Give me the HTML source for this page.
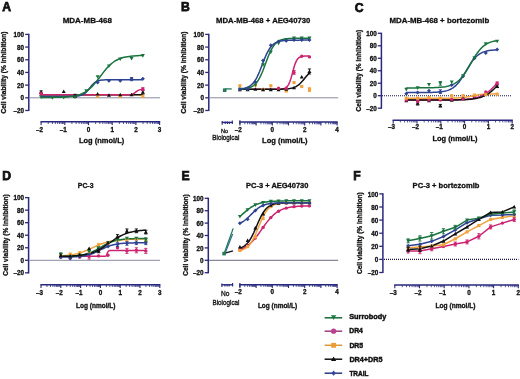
<!DOCTYPE html>
<html><head><meta charset="utf-8"><style>
html,body{margin:0;padding:0;background:#fff;}
body{width:520px;height:379px;overflow:hidden;}
svg{display:block;filter:blur(0.45px);}
text{font-family:"Liberation Sans",sans-serif;stroke:#111;stroke-width:0.3px;}
</style></head><body>
<svg width="520" height="379" viewBox="0 0 520 379">
<rect width="520" height="379" fill="#fff"/>
<text x="2.30" y="11.40" font-size="12.2" font-weight="bold" text-anchor="start" fill="#111" style="stroke-width:0.75px">A</text>
<text x="181.10" y="11.30" font-size="12.2" font-weight="bold" text-anchor="start" fill="#111" style="stroke-width:0.75px">B</text>
<text x="354.70" y="11.60" font-size="12.2" font-weight="bold" text-anchor="start" fill="#111" style="stroke-width:0.75px">C</text>
<text x="2.30" y="179.60" font-size="12.2" font-weight="bold" text-anchor="start" fill="#111" style="stroke-width:0.75px">D</text>
<text x="181.50" y="180.00" font-size="12.2" font-weight="bold" text-anchor="start" fill="#111" style="stroke-width:0.75px">E</text>
<text x="353.30" y="180.00" font-size="12.2" font-weight="bold" text-anchor="start" fill="#111" style="stroke-width:0.75px">F</text>
<text x="87.30" y="22.70" font-size="7.6" font-weight="bold" text-anchor="middle" fill="#111"  textLength="49.2" lengthAdjust="spacingAndGlyphs">MDA-MB-468</text>
<text x="263.20" y="22.70" font-size="7.6" font-weight="bold" text-anchor="middle" fill="#111"  textLength="94.2" lengthAdjust="spacingAndGlyphs">MDA-MB-468 + AEG40730</text>
<text x="439.35" y="22.80" font-size="7.6" font-weight="bold" text-anchor="middle" fill="#111"  textLength="99.7" lengthAdjust="spacingAndGlyphs">MDA-MB-468 + bortezomib</text>
<text x="85.65" y="188.20" font-size="7.22" font-weight="bold" text-anchor="middle" fill="#111"  textLength="15.7" lengthAdjust="spacingAndGlyphs">PC-3</text>
<text x="277.25" y="188.30" font-size="7.22" font-weight="bold" text-anchor="middle" fill="#111"  textLength="62.3" lengthAdjust="spacingAndGlyphs">PC-3 + AEG40730</text>
<text x="446.00" y="188.30" font-size="7.22" font-weight="bold" text-anchor="middle" fill="#111"  textLength="66.8" lengthAdjust="spacingAndGlyphs">PC-3 + bortezomib</text>
<line x1="28.8" y1="33.80" x2="28.8" y2="111.08" stroke="#28287e" stroke-width="1.5"/>
<line x1="25.2" y1="110.48" x2="28.8" y2="110.48" stroke="#28287e" stroke-width="1.3"/>
<text x="24.10" y="113.10" font-size="6.3" font-weight="bold" text-anchor="end" fill="#111" >&#8211;20</text>
<line x1="25.2" y1="97.80" x2="28.8" y2="97.80" stroke="#28287e" stroke-width="1.3"/>
<text x="24.10" y="100.42" font-size="6.3" font-weight="bold" text-anchor="end" fill="#111" >0</text>
<line x1="25.2" y1="85.12" x2="28.8" y2="85.12" stroke="#28287e" stroke-width="1.3"/>
<text x="24.10" y="87.74" font-size="6.3" font-weight="bold" text-anchor="end" fill="#111" >20</text>
<line x1="25.2" y1="72.44" x2="28.8" y2="72.44" stroke="#28287e" stroke-width="1.3"/>
<text x="24.10" y="75.06" font-size="6.3" font-weight="bold" text-anchor="end" fill="#111" >40</text>
<line x1="25.2" y1="59.76" x2="28.8" y2="59.76" stroke="#28287e" stroke-width="1.3"/>
<text x="24.10" y="62.38" font-size="6.3" font-weight="bold" text-anchor="end" fill="#111" >60</text>
<line x1="25.2" y1="47.08" x2="28.8" y2="47.08" stroke="#28287e" stroke-width="1.3"/>
<text x="24.10" y="49.70" font-size="6.3" font-weight="bold" text-anchor="end" fill="#111" >80</text>
<line x1="25.2" y1="34.40" x2="28.8" y2="34.40" stroke="#28287e" stroke-width="1.3"/>
<text x="24.10" y="37.02" font-size="6.3" font-weight="bold" text-anchor="end" fill="#111" >100</text>
<line x1="29.5" y1="97.80" x2="160" y2="97.80" stroke="#8a8aa2" stroke-width="1.0"/>
<line x1="40.50" y1="121.8" x2="160.20" y2="121.8" stroke="#28287e" stroke-width="1.5"/>
<line x1="41.10" y1="121.8" x2="41.10" y2="125.1" stroke="#28287e" stroke-width="1.1"/>
<line x1="48.23" y1="121.8" x2="48.23" y2="124.0" stroke="#28287e" stroke-width="0.8"/>
<line x1="52.41" y1="121.8" x2="52.41" y2="124.0" stroke="#28287e" stroke-width="0.8"/>
<line x1="55.37" y1="121.8" x2="55.37" y2="124.0" stroke="#28287e" stroke-width="0.8"/>
<line x1="57.67" y1="121.8" x2="57.67" y2="124.0" stroke="#28287e" stroke-width="0.8"/>
<line x1="59.54" y1="121.8" x2="59.54" y2="124.0" stroke="#28287e" stroke-width="0.8"/>
<line x1="61.13" y1="121.8" x2="61.13" y2="124.0" stroke="#28287e" stroke-width="0.8"/>
<line x1="62.50" y1="121.8" x2="62.50" y2="124.0" stroke="#28287e" stroke-width="0.8"/>
<line x1="63.72" y1="121.8" x2="63.72" y2="124.0" stroke="#28287e" stroke-width="0.8"/>
<line x1="64.80" y1="121.8" x2="64.80" y2="125.1" stroke="#28287e" stroke-width="1.1"/>
<line x1="71.93" y1="121.8" x2="71.93" y2="124.0" stroke="#28287e" stroke-width="0.8"/>
<line x1="76.11" y1="121.8" x2="76.11" y2="124.0" stroke="#28287e" stroke-width="0.8"/>
<line x1="79.07" y1="121.8" x2="79.07" y2="124.0" stroke="#28287e" stroke-width="0.8"/>
<line x1="81.37" y1="121.8" x2="81.37" y2="124.0" stroke="#28287e" stroke-width="0.8"/>
<line x1="83.24" y1="121.8" x2="83.24" y2="124.0" stroke="#28287e" stroke-width="0.8"/>
<line x1="84.83" y1="121.8" x2="84.83" y2="124.0" stroke="#28287e" stroke-width="0.8"/>
<line x1="86.20" y1="121.8" x2="86.20" y2="124.0" stroke="#28287e" stroke-width="0.8"/>
<line x1="87.42" y1="121.8" x2="87.42" y2="124.0" stroke="#28287e" stroke-width="0.8"/>
<line x1="88.50" y1="121.8" x2="88.50" y2="125.1" stroke="#28287e" stroke-width="1.1"/>
<line x1="95.63" y1="121.8" x2="95.63" y2="124.0" stroke="#28287e" stroke-width="0.8"/>
<line x1="99.81" y1="121.8" x2="99.81" y2="124.0" stroke="#28287e" stroke-width="0.8"/>
<line x1="102.77" y1="121.8" x2="102.77" y2="124.0" stroke="#28287e" stroke-width="0.8"/>
<line x1="105.07" y1="121.8" x2="105.07" y2="124.0" stroke="#28287e" stroke-width="0.8"/>
<line x1="106.94" y1="121.8" x2="106.94" y2="124.0" stroke="#28287e" stroke-width="0.8"/>
<line x1="108.53" y1="121.8" x2="108.53" y2="124.0" stroke="#28287e" stroke-width="0.8"/>
<line x1="109.90" y1="121.8" x2="109.90" y2="124.0" stroke="#28287e" stroke-width="0.8"/>
<line x1="111.12" y1="121.8" x2="111.12" y2="124.0" stroke="#28287e" stroke-width="0.8"/>
<line x1="112.20" y1="121.8" x2="112.20" y2="125.1" stroke="#28287e" stroke-width="1.1"/>
<line x1="119.33" y1="121.8" x2="119.33" y2="124.0" stroke="#28287e" stroke-width="0.8"/>
<line x1="123.51" y1="121.8" x2="123.51" y2="124.0" stroke="#28287e" stroke-width="0.8"/>
<line x1="126.47" y1="121.8" x2="126.47" y2="124.0" stroke="#28287e" stroke-width="0.8"/>
<line x1="128.77" y1="121.8" x2="128.77" y2="124.0" stroke="#28287e" stroke-width="0.8"/>
<line x1="130.64" y1="121.8" x2="130.64" y2="124.0" stroke="#28287e" stroke-width="0.8"/>
<line x1="132.23" y1="121.8" x2="132.23" y2="124.0" stroke="#28287e" stroke-width="0.8"/>
<line x1="133.60" y1="121.8" x2="133.60" y2="124.0" stroke="#28287e" stroke-width="0.8"/>
<line x1="134.82" y1="121.8" x2="134.82" y2="124.0" stroke="#28287e" stroke-width="0.8"/>
<line x1="135.90" y1="121.8" x2="135.90" y2="125.1" stroke="#28287e" stroke-width="1.1"/>
<line x1="143.03" y1="121.8" x2="143.03" y2="124.0" stroke="#28287e" stroke-width="0.8"/>
<line x1="147.21" y1="121.8" x2="147.21" y2="124.0" stroke="#28287e" stroke-width="0.8"/>
<line x1="150.17" y1="121.8" x2="150.17" y2="124.0" stroke="#28287e" stroke-width="0.8"/>
<line x1="152.47" y1="121.8" x2="152.47" y2="124.0" stroke="#28287e" stroke-width="0.8"/>
<line x1="154.34" y1="121.8" x2="154.34" y2="124.0" stroke="#28287e" stroke-width="0.8"/>
<line x1="155.93" y1="121.8" x2="155.93" y2="124.0" stroke="#28287e" stroke-width="0.8"/>
<line x1="157.30" y1="121.8" x2="157.30" y2="124.0" stroke="#28287e" stroke-width="0.8"/>
<line x1="158.52" y1="121.8" x2="158.52" y2="124.0" stroke="#28287e" stroke-width="0.8"/>
<line x1="159.60" y1="121.8" x2="159.60" y2="125.1" stroke="#28287e" stroke-width="1.1"/>
<text x="39.50" y="132.10" font-size="6.3" font-weight="bold" text-anchor="middle" fill="#111" >&#8211;2</text>
<text x="63.20" y="132.10" font-size="6.3" font-weight="bold" text-anchor="middle" fill="#111" >&#8211;1</text>
<text x="88.50" y="132.10" font-size="6.3" font-weight="bold" text-anchor="middle" fill="#111" >0</text>
<text x="112.20" y="132.10" font-size="6.3" font-weight="bold" text-anchor="middle" fill="#111" >1</text>
<text x="135.90" y="132.10" font-size="6.3" font-weight="bold" text-anchor="middle" fill="#111" >2</text>
<text x="159.60" y="132.10" font-size="6.3" font-weight="bold" text-anchor="middle" fill="#111" >3</text>
<text transform="translate(6.00,72.55) rotate(-90)" x="0" y="0" font-size="6.6" font-weight="bold" text-anchor="middle" fill="#111" textLength="82.10" lengthAdjust="spacingAndGlyphs">Cell viability (% inhibition)</text>
<text x="101.60" y="143.10" font-size="7.4" font-weight="bold" text-anchor="middle" fill="#111"  textLength="45.2" lengthAdjust="spacingAndGlyphs">Log (nmol/L)</text>
<polyline points="41.10,94.76 42.79,94.76 44.49,94.76 46.18,94.76 47.88,94.76 49.57,94.76 51.27,94.76 52.96,94.76 54.66,94.76 56.35,94.76 58.05,94.76 59.74,94.76 61.43,94.76 63.13,94.76 64.82,94.76 66.52,94.76 68.21,94.76 69.91,94.76 71.60,94.76 73.30,94.76 74.99,94.76 76.69,94.76 78.38,94.76 80.07,94.76 81.77,94.76 83.46,94.76 85.16,94.76 86.85,94.76 88.55,94.76 90.24,94.76 91.94,94.76 93.63,94.76 95.33,94.76 97.02,94.76 98.71,94.76 100.41,94.76 102.10,94.76 103.80,94.76 105.49,94.76 107.19,94.76 108.88,94.76 110.58,94.76 112.27,94.76 113.97,94.76 115.66,94.76 117.35,94.76 119.05,94.76 120.74,94.76 122.44,94.76 124.13,94.76 125.83,94.76 127.52,94.76 129.22,94.76 130.91,94.76 132.61,94.76 134.30,94.76 135.99,94.76 137.69,94.76 139.38,94.76 141.08,94.76 142.77,94.76" fill="none" stroke="#f2a23c" stroke-width="1.5" stroke-linejoin="round"/>
<polyline points="41.10,94.76 42.79,94.76 44.49,94.76 46.18,94.76 47.88,94.76 49.57,94.76 51.27,94.76 52.96,94.76 54.66,94.76 56.35,94.76 58.05,94.76 59.74,94.76 61.43,94.76 63.13,94.76 64.82,94.76 66.52,94.76 68.21,94.76 69.91,94.76 71.60,94.76 73.30,94.76 74.99,94.76 76.69,94.76 78.38,94.76 80.07,94.76 81.77,94.76 83.46,94.76 85.16,94.76 86.85,94.76 88.55,94.76 90.24,94.76 91.94,94.76 93.63,94.76 95.33,94.76 97.02,94.76 98.71,94.76 100.41,94.76 102.10,94.76 103.80,94.76 105.49,94.76 107.19,94.76 108.88,94.76 110.58,94.76 112.27,94.76 113.97,94.76 115.66,94.76 117.35,94.76 119.05,94.76 120.74,94.76 122.44,94.76 124.13,94.76 125.83,94.76 127.52,94.76 129.22,94.76 130.91,94.76 132.61,94.76 134.30,94.76 135.99,94.76 137.69,94.76 139.38,94.76 141.08,94.76 142.77,94.76" fill="none" stroke="#111111" stroke-width="1.5" stroke-linejoin="round"/>
<polyline points="41.10,94.76 42.79,94.76 44.49,94.76 46.18,94.76 47.88,94.76 49.57,94.76 51.27,94.76 52.96,94.76 54.66,94.76 56.35,94.76 58.05,94.76 59.74,94.76 61.43,94.76 63.13,94.76 64.82,94.76 66.52,94.76 68.21,94.76 69.91,94.76 71.60,94.76 73.30,94.76 74.99,94.76 76.69,94.76 78.38,94.76 80.07,94.76 81.77,94.76 83.46,94.76 85.16,94.76 86.85,94.76 88.55,94.76 90.24,94.76 91.94,94.76 93.63,94.76 95.33,94.76 97.02,94.76 98.71,94.76 100.41,94.76 102.10,94.76 103.80,94.76 105.49,94.76 107.19,94.76 108.88,94.76 110.58,94.76 112.27,94.76 113.97,94.76 115.66,94.76 117.35,94.76 119.05,94.76 120.74,94.76 122.44,94.75 124.13,94.75 125.83,94.74 127.52,94.72 129.22,94.65 130.91,94.47 132.61,94.05 134.30,93.20 135.99,91.92 137.69,90.68 139.38,89.88 141.08,89.50 142.77,89.34" fill="none" stroke="#cc2470" stroke-width="1.5" stroke-linejoin="round"/>
<polyline points="41.10,96.41 42.79,96.41 44.49,96.41 46.18,96.41 47.88,96.41 49.57,96.41 51.27,96.41 52.96,96.41 54.66,96.40 56.35,96.40 58.05,96.40 59.74,96.40 61.43,96.40 63.13,96.40 64.82,96.40 66.52,96.39 68.21,96.38 69.91,96.37 71.60,96.35 73.30,96.30 74.99,96.23 76.69,96.12 78.38,95.92 80.07,95.61 81.77,95.09 83.46,94.30 85.16,93.13 86.85,91.52 88.55,89.53 90.24,87.35 91.94,85.26 93.63,83.51 95.33,82.19 97.02,81.28 98.71,80.68 100.41,80.30 102.10,80.07 103.80,79.94 105.49,79.85 107.19,79.80 108.88,79.77 110.58,79.76 112.27,79.75 113.97,79.74 115.66,79.74 117.35,79.73 119.05,79.73 120.74,79.73 122.44,79.73 124.13,79.73 125.83,79.73 127.52,79.73 129.22,79.73 130.91,79.73 132.61,79.73 134.30,79.73 135.99,79.73 137.69,79.73 139.38,79.73 141.08,79.73 142.77,79.73" fill="none" stroke="#2e4292" stroke-width="1.5" stroke-linejoin="round"/>
<polyline points="41.10,97.46 42.79,97.45 44.49,97.45 46.18,97.44 47.88,97.43 49.57,97.41 51.27,97.40 52.96,97.38 54.66,97.35 56.35,97.32 58.05,97.28 59.74,97.23 61.43,97.18 63.13,97.10 64.82,97.01 66.52,96.90 68.21,96.77 69.91,96.60 71.60,96.39 73.30,96.14 74.99,95.84 76.69,95.46 78.38,95.01 80.07,94.46 81.77,93.80 83.46,93.02 85.16,92.09 86.85,91.00 88.55,89.73 90.24,88.29 91.94,86.66 93.63,84.85 95.33,82.88 97.02,80.77 98.71,78.57 100.41,76.32 102.10,74.08 103.80,71.88 105.49,69.79 107.19,67.83 108.88,66.03 110.58,64.41 112.27,62.98 113.97,61.73 115.66,60.65 117.35,59.73 119.05,58.95 120.74,58.30 122.44,57.76 124.13,57.31 125.83,56.95 127.52,56.64 129.22,56.39 130.91,56.19 132.61,56.03 134.30,55.89 135.99,55.78 137.69,55.70 139.38,55.62 141.08,55.57 142.77,55.52" fill="none" stroke="#18733f" stroke-width="1.5" stroke-linejoin="round"/>
<rect x="96.06" y="94.64" width="3.15" height="3.15" fill="#f2a23c"/>
<rect x="118.68" y="94.64" width="3.15" height="3.15" fill="#f2a23c"/>
<rect x="141.29" y="94.64" width="3.15" height="3.15" fill="#f2a23c"/>
<path d="M41.10,90.83V93.36M39.50,90.83H42.70M39.50,93.36H42.70" stroke="#111111" stroke-width="0.9" fill="none"/>
<path d="M39.11,93.69L43.09,93.69L41.10,90.10Z" fill="#111111"/>
<path d="M61.72,93.06L65.71,93.06L63.72,89.46Z" fill="#111111"/>
<path d="M75.02,94.31V97.48M73.42,94.31H76.62M73.42,97.48H76.62" stroke="#111111" stroke-width="0.9" fill="none"/>
<path d="M73.03,97.49L77.02,97.49L75.02,93.90Z" fill="#111111"/>
<path d="M95.64,95.59L99.63,95.59L97.64,92.00Z" fill="#111111"/>
<path d="M106.95,96.86L110.94,96.86L108.95,93.27Z" fill="#111111"/>
<path d="M118.26,96.23L122.25,96.23L120.25,92.63Z" fill="#111111"/>
<path d="M129.57,96.23L133.56,96.23L131.56,92.63Z" fill="#111111"/>
<path d="M142.87,90.19V94.00M141.27,90.19H144.47M141.27,94.00H144.47" stroke="#111111" stroke-width="0.9" fill="none"/>
<path d="M140.87,93.69L144.86,93.69L142.87,90.10Z" fill="#111111"/>
<path d="M41.10,92.41V95.58M39.50,92.41H42.70M39.50,95.58H42.70" stroke="#cc2470" stroke-width="0.9" fill="none"/>
<circle cx="41.10" cy="94.00" r="1.68" fill="#cc2470"/>
<path d="M142.87,87.66V90.83M141.27,87.66H144.47M141.27,90.83H144.47" stroke="#cc2470" stroke-width="0.9" fill="none"/>
<circle cx="142.87" cy="89.24" r="1.68" fill="#cc2470"/>
<path d="M95.64,82.58L97.64,80.59L99.63,82.58L97.64,84.58Z" fill="#2e4292"/>
<path d="M106.95,80.68L108.95,78.69L110.94,80.68L108.95,82.68Z" fill="#2e4292"/>
<path d="M118.26,80.68L120.25,78.69L122.25,80.68L120.25,82.68Z" fill="#2e4292"/>
<path d="M131.56,77.51V80.68M129.96,77.51H133.16M129.96,80.68H133.16" stroke="#2e4292" stroke-width="0.9" fill="none"/>
<path d="M129.57,79.10L131.56,77.10L133.56,79.10L131.56,81.09Z" fill="#2e4292"/>
<path d="M140.87,78.78L142.87,76.78L144.86,78.78L142.87,80.78Z" fill="#2e4292"/>
<path d="M39.11,95.57L43.09,95.57L41.10,99.16Z" fill="#18733f"/>
<path d="M50.41,96.20L54.40,96.20L52.41,99.80Z" fill="#18733f"/>
<path d="M61.72,95.89L65.71,95.89L63.72,99.48Z" fill="#18733f"/>
<path d="M73.03,95.57L77.02,95.57L75.02,99.16Z" fill="#18733f"/>
<path d="M84.34,89.23L88.33,89.23L86.33,92.82Z" fill="#18733f"/>
<path d="M95.64,75.28L99.63,75.28L97.64,78.87Z" fill="#18733f"/>
<path d="M106.95,64.50L110.94,64.50L108.95,68.09Z" fill="#18733f"/>
<path d="M118.26,57.53L122.25,57.53L120.25,61.12Z" fill="#18733f"/>
<path d="M129.57,56.90L133.56,56.90L131.56,60.49Z" fill="#18733f"/>
<path d="M140.87,54.04L144.86,54.04L142.87,57.63Z" fill="#18733f"/>
<line x1="208.8" y1="33.80" x2="208.8" y2="111.08" stroke="#28287e" stroke-width="1.5"/>
<line x1="205.20000000000002" y1="110.48" x2="208.8" y2="110.48" stroke="#28287e" stroke-width="1.3"/>
<text x="204.10" y="113.10" font-size="6.3" font-weight="bold" text-anchor="end" fill="#111" >&#8211;20</text>
<line x1="205.20000000000002" y1="97.80" x2="208.8" y2="97.80" stroke="#28287e" stroke-width="1.3"/>
<text x="204.10" y="100.42" font-size="6.3" font-weight="bold" text-anchor="end" fill="#111" >0</text>
<line x1="205.20000000000002" y1="85.12" x2="208.8" y2="85.12" stroke="#28287e" stroke-width="1.3"/>
<text x="204.10" y="87.74" font-size="6.3" font-weight="bold" text-anchor="end" fill="#111" >20</text>
<line x1="205.20000000000002" y1="72.44" x2="208.8" y2="72.44" stroke="#28287e" stroke-width="1.3"/>
<text x="204.10" y="75.06" font-size="6.3" font-weight="bold" text-anchor="end" fill="#111" >40</text>
<line x1="205.20000000000002" y1="59.76" x2="208.8" y2="59.76" stroke="#28287e" stroke-width="1.3"/>
<text x="204.10" y="62.38" font-size="6.3" font-weight="bold" text-anchor="end" fill="#111" >60</text>
<line x1="205.20000000000002" y1="47.08" x2="208.8" y2="47.08" stroke="#28287e" stroke-width="1.3"/>
<text x="204.10" y="49.70" font-size="6.3" font-weight="bold" text-anchor="end" fill="#111" >80</text>
<line x1="205.20000000000002" y1="34.40" x2="208.8" y2="34.40" stroke="#28287e" stroke-width="1.3"/>
<text x="204.10" y="37.02" font-size="6.3" font-weight="bold" text-anchor="end" fill="#111" >100</text>
<line x1="209.5" y1="97.80" x2="338.2" y2="97.80" stroke="#8a8aa2" stroke-width="1.0"/>
<line x1="239.30" y1="122.1" x2="337.70" y2="122.1" stroke="#28287e" stroke-width="1.5"/>
<line x1="239.90" y1="122.1" x2="239.90" y2="125.39999999999999" stroke="#28287e" stroke-width="1.1"/>
<line x1="244.78" y1="122.1" x2="244.78" y2="124.3" stroke="#28287e" stroke-width="0.8"/>
<line x1="247.63" y1="122.1" x2="247.63" y2="124.3" stroke="#28287e" stroke-width="0.8"/>
<line x1="249.65" y1="122.1" x2="249.65" y2="124.3" stroke="#28287e" stroke-width="0.8"/>
<line x1="251.22" y1="122.1" x2="251.22" y2="124.3" stroke="#28287e" stroke-width="0.8"/>
<line x1="252.51" y1="122.1" x2="252.51" y2="124.3" stroke="#28287e" stroke-width="0.8"/>
<line x1="253.59" y1="122.1" x2="253.59" y2="124.3" stroke="#28287e" stroke-width="0.8"/>
<line x1="254.53" y1="122.1" x2="254.53" y2="124.3" stroke="#28287e" stroke-width="0.8"/>
<line x1="255.36" y1="122.1" x2="255.36" y2="124.3" stroke="#28287e" stroke-width="0.8"/>
<line x1="256.10" y1="122.1" x2="256.10" y2="125.39999999999999" stroke="#28287e" stroke-width="1.1"/>
<line x1="260.98" y1="122.1" x2="260.98" y2="124.3" stroke="#28287e" stroke-width="0.8"/>
<line x1="263.83" y1="122.1" x2="263.83" y2="124.3" stroke="#28287e" stroke-width="0.8"/>
<line x1="265.85" y1="122.1" x2="265.85" y2="124.3" stroke="#28287e" stroke-width="0.8"/>
<line x1="267.42" y1="122.1" x2="267.42" y2="124.3" stroke="#28287e" stroke-width="0.8"/>
<line x1="268.71" y1="122.1" x2="268.71" y2="124.3" stroke="#28287e" stroke-width="0.8"/>
<line x1="269.79" y1="122.1" x2="269.79" y2="124.3" stroke="#28287e" stroke-width="0.8"/>
<line x1="270.73" y1="122.1" x2="270.73" y2="124.3" stroke="#28287e" stroke-width="0.8"/>
<line x1="271.56" y1="122.1" x2="271.56" y2="124.3" stroke="#28287e" stroke-width="0.8"/>
<line x1="272.30" y1="122.1" x2="272.30" y2="125.39999999999999" stroke="#28287e" stroke-width="1.1"/>
<line x1="277.18" y1="122.1" x2="277.18" y2="124.3" stroke="#28287e" stroke-width="0.8"/>
<line x1="280.03" y1="122.1" x2="280.03" y2="124.3" stroke="#28287e" stroke-width="0.8"/>
<line x1="282.05" y1="122.1" x2="282.05" y2="124.3" stroke="#28287e" stroke-width="0.8"/>
<line x1="283.62" y1="122.1" x2="283.62" y2="124.3" stroke="#28287e" stroke-width="0.8"/>
<line x1="284.91" y1="122.1" x2="284.91" y2="124.3" stroke="#28287e" stroke-width="0.8"/>
<line x1="285.99" y1="122.1" x2="285.99" y2="124.3" stroke="#28287e" stroke-width="0.8"/>
<line x1="286.93" y1="122.1" x2="286.93" y2="124.3" stroke="#28287e" stroke-width="0.8"/>
<line x1="287.76" y1="122.1" x2="287.76" y2="124.3" stroke="#28287e" stroke-width="0.8"/>
<line x1="288.50" y1="122.1" x2="288.50" y2="125.39999999999999" stroke="#28287e" stroke-width="1.1"/>
<line x1="293.38" y1="122.1" x2="293.38" y2="124.3" stroke="#28287e" stroke-width="0.8"/>
<line x1="296.23" y1="122.1" x2="296.23" y2="124.3" stroke="#28287e" stroke-width="0.8"/>
<line x1="298.25" y1="122.1" x2="298.25" y2="124.3" stroke="#28287e" stroke-width="0.8"/>
<line x1="299.82" y1="122.1" x2="299.82" y2="124.3" stroke="#28287e" stroke-width="0.8"/>
<line x1="301.11" y1="122.1" x2="301.11" y2="124.3" stroke="#28287e" stroke-width="0.8"/>
<line x1="302.19" y1="122.1" x2="302.19" y2="124.3" stroke="#28287e" stroke-width="0.8"/>
<line x1="303.13" y1="122.1" x2="303.13" y2="124.3" stroke="#28287e" stroke-width="0.8"/>
<line x1="303.96" y1="122.1" x2="303.96" y2="124.3" stroke="#28287e" stroke-width="0.8"/>
<line x1="304.70" y1="122.1" x2="304.70" y2="125.39999999999999" stroke="#28287e" stroke-width="1.1"/>
<line x1="309.58" y1="122.1" x2="309.58" y2="124.3" stroke="#28287e" stroke-width="0.8"/>
<line x1="312.43" y1="122.1" x2="312.43" y2="124.3" stroke="#28287e" stroke-width="0.8"/>
<line x1="314.45" y1="122.1" x2="314.45" y2="124.3" stroke="#28287e" stroke-width="0.8"/>
<line x1="316.02" y1="122.1" x2="316.02" y2="124.3" stroke="#28287e" stroke-width="0.8"/>
<line x1="317.31" y1="122.1" x2="317.31" y2="124.3" stroke="#28287e" stroke-width="0.8"/>
<line x1="318.39" y1="122.1" x2="318.39" y2="124.3" stroke="#28287e" stroke-width="0.8"/>
<line x1="319.33" y1="122.1" x2="319.33" y2="124.3" stroke="#28287e" stroke-width="0.8"/>
<line x1="320.16" y1="122.1" x2="320.16" y2="124.3" stroke="#28287e" stroke-width="0.8"/>
<line x1="320.90" y1="122.1" x2="320.90" y2="125.39999999999999" stroke="#28287e" stroke-width="1.1"/>
<line x1="325.78" y1="122.1" x2="325.78" y2="124.3" stroke="#28287e" stroke-width="0.8"/>
<line x1="328.63" y1="122.1" x2="328.63" y2="124.3" stroke="#28287e" stroke-width="0.8"/>
<line x1="330.65" y1="122.1" x2="330.65" y2="124.3" stroke="#28287e" stroke-width="0.8"/>
<line x1="332.22" y1="122.1" x2="332.22" y2="124.3" stroke="#28287e" stroke-width="0.8"/>
<line x1="333.51" y1="122.1" x2="333.51" y2="124.3" stroke="#28287e" stroke-width="0.8"/>
<line x1="334.59" y1="122.1" x2="334.59" y2="124.3" stroke="#28287e" stroke-width="0.8"/>
<line x1="335.53" y1="122.1" x2="335.53" y2="124.3" stroke="#28287e" stroke-width="0.8"/>
<line x1="336.36" y1="122.1" x2="336.36" y2="124.3" stroke="#28287e" stroke-width="0.8"/>
<line x1="337.10" y1="122.1" x2="337.10" y2="125.39999999999999" stroke="#28287e" stroke-width="1.1"/>
<text x="238.30" y="132.40" font-size="6.3" font-weight="bold" text-anchor="middle" fill="#111" >&#8211;2</text>
<text x="272.30" y="132.40" font-size="6.3" font-weight="bold" text-anchor="middle" fill="#111" >0</text>
<text x="304.70" y="132.40" font-size="6.3" font-weight="bold" text-anchor="middle" fill="#111" >2</text>
<text x="337.10" y="132.40" font-size="6.3" font-weight="bold" text-anchor="middle" fill="#111" >4</text>
<line x1="221.8" y1="122.4" x2="232.8" y2="122.4" stroke="#28287e" stroke-width="1.4"/>
<line x1="222.20" y1="121.10" x2="222.20" y2="124.70" stroke="#28287e" stroke-width="1.1"/>
<line x1="225.20" y1="121.50" x2="225.20" y2="124.00" stroke="#28287e" stroke-width="1.1"/>
<line x1="227.40" y1="121.50" x2="227.40" y2="124.00" stroke="#28287e" stroke-width="1.1"/>
<line x1="229.40" y1="121.80" x2="229.40" y2="124.00" stroke="#28287e" stroke-width="1.1"/>
<line x1="232.30" y1="120.50" x2="232.30" y2="124.00" stroke="#28287e" stroke-width="1.1"/>
<line x1="239.90" y1="120.2" x2="239.90" y2="124.3" stroke="#28287e" stroke-width="1.2"/>
<text x="224.65" y="133.30" font-size="6.0" font-weight="normal" text-anchor="middle" fill="#111"  style="stroke-width:0.3px" textLength="7.1" lengthAdjust="spacingAndGlyphs">No</text>
<text x="225.80" y="139.50" font-size="6.4" font-weight="normal" text-anchor="middle" fill="#111"  style="stroke-width:0.3px" textLength="27.0" lengthAdjust="spacingAndGlyphs">Biological</text>
<text transform="translate(186.40,72.55) rotate(-90)" x="0" y="0" font-size="6.6" font-weight="bold" text-anchor="middle" fill="#111" textLength="82.10" lengthAdjust="spacingAndGlyphs">Cell viability (% inhibition)</text>
<text x="284.85" y="142.90" font-size="7.4" font-weight="bold" text-anchor="middle" fill="#111"  textLength="45.5" lengthAdjust="spacingAndGlyphs">Log (nmol/L)</text>
<rect x="222.9" y="88.39" width="3.6" height="3.6" fill="#2a7a5a"/>
<line x1="224.9" y1="88.92" x2="231.7" y2="88.92" stroke="#1e7a58" stroke-width="1.3"/>
<polyline points="239.90,89.24 241.06,89.24 242.22,89.24 243.37,89.24 244.53,89.24 245.69,89.24 246.85,89.24 248.01,89.24 249.17,89.24 250.32,89.24 251.48,89.24 252.64,89.24 253.80,89.24 254.96,89.24 256.12,89.24 257.27,89.24 258.43,89.24 259.59,89.24 260.75,89.24 261.91,89.24 263.07,89.24 264.22,89.24 265.38,89.24 266.54,89.24 267.70,89.24 268.86,89.24 270.02,89.24 271.17,89.24 272.33,89.24 273.49,89.24 274.65,89.23 275.81,89.22 276.97,89.21 278.12,89.19 279.28,89.16 280.44,89.11 281.60,89.01 282.76,88.86 283.92,88.60 285.07,88.17 286.23,87.46 287.39,86.33 288.55,84.60 289.71,82.07 290.87,78.68 292.02,74.58 293.18,70.22 294.34,66.17 295.50,62.86 296.66,60.41 297.81,58.74 298.97,57.66 300.13,56.98 301.29,56.57 302.45,56.32 303.61,56.17 304.76,56.08 305.92,56.03 307.08,56.00 308.24,55.98 309.40,55.97" fill="none" stroke="#cc2470" stroke-width="1.5" stroke-linejoin="round"/>
<polyline points="239.90,89.24 241.06,89.24 242.22,89.24 243.37,89.24 244.53,89.24 245.69,89.24 246.85,89.24 248.01,89.24 249.17,89.24 250.32,89.24 251.48,89.24 252.64,89.24 253.80,89.24 254.96,89.24 256.12,89.24 257.27,89.24 258.43,89.24 259.59,89.24 260.75,89.24 261.91,89.24 263.07,89.24 264.22,89.24 265.38,89.24 266.54,89.24 267.70,89.24 268.86,89.23 270.02,89.23 271.17,89.23 272.33,89.23 273.49,89.22 274.65,89.22 275.81,89.21 276.97,89.20 278.12,89.19 279.28,89.17 280.44,89.15 281.60,89.13 282.76,89.09 283.92,89.05 285.07,88.99 286.23,88.92 287.39,88.82 288.55,88.70 289.71,88.54 290.87,88.34 292.02,88.08 293.18,87.76 294.34,87.35 295.50,86.84 296.66,86.22 297.81,85.46 298.97,84.57 300.13,83.52 301.29,82.34 302.45,81.05 303.61,79.66 304.76,78.22 305.92,76.79 307.08,75.41 308.24,74.13 309.40,72.96" fill="none" stroke="#111111" stroke-width="1.5" stroke-linejoin="round"/>
<polyline points="239.90,89.02 241.06,88.96 242.22,88.89 243.37,88.79 244.53,88.66 245.69,88.50 246.85,88.30 248.01,88.04 249.17,87.72 250.32,87.31 251.48,86.79 252.64,86.15 253.80,85.35 254.96,84.36 256.12,83.16 257.27,81.70 258.43,79.98 259.59,77.95 260.75,75.63 261.91,73.03 263.07,70.19 264.22,67.16 265.38,64.03 266.54,60.89 267.70,57.84 268.86,54.95 270.02,52.30 271.17,49.92 272.33,47.84 273.49,46.06 274.65,44.55 275.81,43.30 276.97,42.28 278.12,41.44 279.28,40.77 280.44,40.23 281.60,39.80 282.76,39.46 283.92,39.19 285.07,38.98 286.23,38.81 287.39,38.68 288.55,38.58 289.71,38.49 290.87,38.43 292.02,38.38 293.18,38.34 294.34,38.31 295.50,38.29 296.66,38.27 297.81,38.26 298.97,38.24 300.13,38.24 301.29,38.23 302.45,38.22 303.61,38.22 304.76,38.22 305.92,38.21 307.08,38.21 308.24,38.21 309.40,38.21" fill="none" stroke="#18733f" stroke-width="1.5" stroke-linejoin="round"/>
<polyline points="239.90,88.83 241.06,88.71 242.22,88.57 243.37,88.38 244.53,88.14 245.69,87.84 246.85,87.47 248.01,86.99 249.17,86.40 250.32,85.66 251.48,84.75 252.64,83.64 253.80,82.29 254.96,80.68 256.12,78.79 257.27,76.62 258.43,74.17 259.59,71.47 260.75,68.59 261.91,65.59 263.07,62.56 264.22,59.59 265.38,56.78 266.54,54.17 267.70,51.83 268.86,49.77 270.02,47.99 271.17,46.49 272.33,45.24 273.49,44.21 274.65,43.37 275.81,42.70 276.97,42.15 278.12,41.72 279.28,41.38 280.44,41.10 281.60,40.89 282.76,40.72 283.92,40.59 285.07,40.48 286.23,40.40 287.39,40.34 288.55,40.29 289.71,40.25 290.87,40.22 292.02,40.19 293.18,40.17 294.34,40.16 295.50,40.15 296.66,40.14 297.81,40.13 298.97,40.13 300.13,40.12 301.29,40.12 302.45,40.12 303.61,40.11 304.76,40.11 305.92,40.11 307.08,40.11 308.24,40.11 309.40,40.11" fill="none" stroke="#2e4292" stroke-width="1.5" stroke-linejoin="round"/>
<rect x="238.33" y="84.18" width="3.15" height="3.15" fill="#f2a23c"/>
<rect x="253.78" y="83.55" width="3.15" height="3.15" fill="#f2a23c"/>
<rect x="261.51" y="87.98" width="3.15" height="3.15" fill="#f2a23c"/>
<rect x="269.24" y="84.18" width="3.15" height="3.15" fill="#f2a23c"/>
<rect x="276.97" y="87.35" width="3.15" height="3.15" fill="#f2a23c"/>
<rect x="284.70" y="89.44" width="3.15" height="3.15" fill="#f2a23c"/>
<rect x="292.43" y="81.01" width="3.15" height="3.15" fill="#f2a23c"/>
<rect x="300.16" y="84.94" width="3.15" height="3.15" fill="#f2a23c"/>
<path d="M309.46,87.66V91.46M307.86,87.66H311.06M307.86,91.46H311.06" stroke="#f2a23c" stroke-width="0.9" fill="none"/>
<rect x="307.89" y="87.98" width="3.15" height="3.15" fill="#f2a23c"/>
<path d="M237.91,91.15L241.90,91.15L239.90,87.56Z" fill="#111111"/>
<path d="M245.63,91.15L249.62,91.15L247.63,87.56Z" fill="#111111"/>
<path d="M253.36,90.84L257.35,90.84L255.36,87.25Z" fill="#111111"/>
<path d="M261.09,91.15L265.08,91.15L263.09,87.56Z" fill="#111111"/>
<path d="M268.82,91.15L272.81,91.15L270.82,87.56Z" fill="#111111"/>
<path d="M276.55,91.15L280.54,91.15L278.55,87.56Z" fill="#111111"/>
<path d="M284.28,90.84L288.27,90.84L286.28,87.25Z" fill="#111111"/>
<path d="M292.01,89.25L296.00,89.25L294.01,85.66Z" fill="#111111"/>
<path d="M299.74,78.47L303.73,78.47L301.73,74.88Z" fill="#111111"/>
<path d="M309.46,68.95V74.03M307.86,68.95H311.06M307.86,74.03H311.06" stroke="#111111" stroke-width="0.9" fill="none"/>
<path d="M307.47,73.09L311.46,73.09L309.46,69.49Z" fill="#111111"/>
<circle cx="278.55" cy="88.29" r="1.68" fill="#cc2470"/>
<circle cx="286.28" cy="88.29" r="1.68" fill="#cc2470"/>
<path d="M294.01,70.54V74.34M292.41,70.54H295.61M292.41,74.34H295.61" stroke="#cc2470" stroke-width="0.9" fill="none"/>
<circle cx="294.01" cy="72.44" r="1.68" fill="#cc2470"/>
<circle cx="301.73" cy="56.27" r="1.68" fill="#cc2470"/>
<circle cx="309.46" cy="56.91" r="1.68" fill="#cc2470"/>
<path d="M237.91,87.64L241.90,87.64L239.90,91.24Z" fill="#18733f"/>
<path d="M245.63,87.33L249.62,87.33L247.63,90.92Z" fill="#18733f"/>
<path d="M253.36,83.52L257.35,83.52L255.36,87.12Z" fill="#18733f"/>
<path d="M261.09,63.24L265.08,63.24L263.09,66.83Z" fill="#18733f"/>
<path d="M268.82,50.56L272.81,50.56L270.82,54.15Z" fill="#18733f"/>
<path d="M276.55,41.68L280.54,41.68L278.55,45.27Z" fill="#18733f"/>
<path d="M284.28,37.88L288.27,37.88L286.28,41.47Z" fill="#18733f"/>
<path d="M292.01,36.61L296.00,36.61L294.01,40.20Z" fill="#18733f"/>
<path d="M299.74,36.61L303.73,36.61L301.73,40.20Z" fill="#18733f"/>
<path d="M307.47,36.61L311.46,36.61L309.46,40.20Z" fill="#18733f"/>
<path d="M237.91,89.24L239.90,87.25L241.90,89.24L239.90,91.24Z" fill="#2e4292"/>
<path d="M245.63,88.92L247.63,86.93L249.62,88.92L247.63,90.92Z" fill="#2e4292"/>
<path d="M253.36,81.95L255.36,79.95L257.35,81.95L255.36,83.95Z" fill="#2e4292"/>
<path d="M261.09,60.39L263.09,58.40L265.08,60.39L263.09,62.39Z" fill="#2e4292"/>
<path d="M268.82,45.18L270.82,43.18L272.81,45.18L270.82,47.17Z" fill="#2e4292"/>
<path d="M276.55,41.37L278.55,39.38L280.54,41.37L278.55,43.37Z" fill="#2e4292"/>
<path d="M284.28,40.74L286.28,38.74L288.27,40.74L286.28,42.73Z" fill="#2e4292"/>
<path d="M292.01,40.11L294.01,38.11L296.00,40.11L294.01,42.10Z" fill="#2e4292"/>
<path d="M299.74,40.11L301.73,38.11L303.73,40.11L301.73,42.10Z" fill="#2e4292"/>
<path d="M307.47,40.11L309.46,38.11L311.46,40.11L309.46,42.10Z" fill="#2e4292"/>
<line x1="381.4" y1="32.70" x2="381.4" y2="108.78" stroke="#28287e" stroke-width="1.5"/>
<line x1="377.79999999999995" y1="108.18" x2="381.4" y2="108.18" stroke="#28287e" stroke-width="1.3"/>
<text x="376.70" y="110.80" font-size="6.3" font-weight="bold" text-anchor="end" fill="#111" >&#8211;20</text>
<line x1="377.79999999999995" y1="95.70" x2="381.4" y2="95.70" stroke="#28287e" stroke-width="1.3"/>
<text x="376.70" y="98.32" font-size="6.3" font-weight="bold" text-anchor="end" fill="#111" >0</text>
<line x1="377.79999999999995" y1="83.22" x2="381.4" y2="83.22" stroke="#28287e" stroke-width="1.3"/>
<text x="376.70" y="85.84" font-size="6.3" font-weight="bold" text-anchor="end" fill="#111" >20</text>
<line x1="377.79999999999995" y1="70.74" x2="381.4" y2="70.74" stroke="#28287e" stroke-width="1.3"/>
<text x="376.70" y="73.36" font-size="6.3" font-weight="bold" text-anchor="end" fill="#111" >40</text>
<line x1="377.79999999999995" y1="58.26" x2="381.4" y2="58.26" stroke="#28287e" stroke-width="1.3"/>
<text x="376.70" y="60.88" font-size="6.3" font-weight="bold" text-anchor="end" fill="#111" >60</text>
<line x1="377.79999999999995" y1="45.78" x2="381.4" y2="45.78" stroke="#28287e" stroke-width="1.3"/>
<text x="376.70" y="48.40" font-size="6.3" font-weight="bold" text-anchor="end" fill="#111" >80</text>
<line x1="377.79999999999995" y1="33.30" x2="381.4" y2="33.30" stroke="#28287e" stroke-width="1.3"/>
<text x="376.70" y="35.92" font-size="6.3" font-weight="bold" text-anchor="end" fill="#111" >100</text>
<line x1="382" y1="95.70" x2="511.3" y2="95.70" stroke="#14144a" stroke-width="1.1" stroke-dasharray="1,1"/>
<line x1="392.60" y1="120.2" x2="512.80" y2="120.2" stroke="#28287e" stroke-width="1.5"/>
<line x1="393.20" y1="120.2" x2="393.20" y2="123.5" stroke="#28287e" stroke-width="1.1"/>
<line x1="400.36" y1="120.2" x2="400.36" y2="122.4" stroke="#28287e" stroke-width="0.8"/>
<line x1="404.56" y1="120.2" x2="404.56" y2="122.4" stroke="#28287e" stroke-width="0.8"/>
<line x1="407.53" y1="120.2" x2="407.53" y2="122.4" stroke="#28287e" stroke-width="0.8"/>
<line x1="409.84" y1="120.2" x2="409.84" y2="122.4" stroke="#28287e" stroke-width="0.8"/>
<line x1="411.72" y1="120.2" x2="411.72" y2="122.4" stroke="#28287e" stroke-width="0.8"/>
<line x1="413.31" y1="120.2" x2="413.31" y2="122.4" stroke="#28287e" stroke-width="0.8"/>
<line x1="414.69" y1="120.2" x2="414.69" y2="122.4" stroke="#28287e" stroke-width="0.8"/>
<line x1="415.91" y1="120.2" x2="415.91" y2="122.4" stroke="#28287e" stroke-width="0.8"/>
<line x1="417.00" y1="120.2" x2="417.00" y2="123.5" stroke="#28287e" stroke-width="1.1"/>
<line x1="424.16" y1="120.2" x2="424.16" y2="122.4" stroke="#28287e" stroke-width="0.8"/>
<line x1="428.36" y1="120.2" x2="428.36" y2="122.4" stroke="#28287e" stroke-width="0.8"/>
<line x1="431.33" y1="120.2" x2="431.33" y2="122.4" stroke="#28287e" stroke-width="0.8"/>
<line x1="433.64" y1="120.2" x2="433.64" y2="122.4" stroke="#28287e" stroke-width="0.8"/>
<line x1="435.52" y1="120.2" x2="435.52" y2="122.4" stroke="#28287e" stroke-width="0.8"/>
<line x1="437.11" y1="120.2" x2="437.11" y2="122.4" stroke="#28287e" stroke-width="0.8"/>
<line x1="438.49" y1="120.2" x2="438.49" y2="122.4" stroke="#28287e" stroke-width="0.8"/>
<line x1="439.71" y1="120.2" x2="439.71" y2="122.4" stroke="#28287e" stroke-width="0.8"/>
<line x1="440.80" y1="120.2" x2="440.80" y2="123.5" stroke="#28287e" stroke-width="1.1"/>
<line x1="447.96" y1="120.2" x2="447.96" y2="122.4" stroke="#28287e" stroke-width="0.8"/>
<line x1="452.16" y1="120.2" x2="452.16" y2="122.4" stroke="#28287e" stroke-width="0.8"/>
<line x1="455.13" y1="120.2" x2="455.13" y2="122.4" stroke="#28287e" stroke-width="0.8"/>
<line x1="457.44" y1="120.2" x2="457.44" y2="122.4" stroke="#28287e" stroke-width="0.8"/>
<line x1="459.32" y1="120.2" x2="459.32" y2="122.4" stroke="#28287e" stroke-width="0.8"/>
<line x1="460.91" y1="120.2" x2="460.91" y2="122.4" stroke="#28287e" stroke-width="0.8"/>
<line x1="462.29" y1="120.2" x2="462.29" y2="122.4" stroke="#28287e" stroke-width="0.8"/>
<line x1="463.51" y1="120.2" x2="463.51" y2="122.4" stroke="#28287e" stroke-width="0.8"/>
<line x1="464.60" y1="120.2" x2="464.60" y2="123.5" stroke="#28287e" stroke-width="1.1"/>
<line x1="471.76" y1="120.2" x2="471.76" y2="122.4" stroke="#28287e" stroke-width="0.8"/>
<line x1="475.96" y1="120.2" x2="475.96" y2="122.4" stroke="#28287e" stroke-width="0.8"/>
<line x1="478.93" y1="120.2" x2="478.93" y2="122.4" stroke="#28287e" stroke-width="0.8"/>
<line x1="481.24" y1="120.2" x2="481.24" y2="122.4" stroke="#28287e" stroke-width="0.8"/>
<line x1="483.12" y1="120.2" x2="483.12" y2="122.4" stroke="#28287e" stroke-width="0.8"/>
<line x1="484.71" y1="120.2" x2="484.71" y2="122.4" stroke="#28287e" stroke-width="0.8"/>
<line x1="486.09" y1="120.2" x2="486.09" y2="122.4" stroke="#28287e" stroke-width="0.8"/>
<line x1="487.31" y1="120.2" x2="487.31" y2="122.4" stroke="#28287e" stroke-width="0.8"/>
<line x1="488.40" y1="120.2" x2="488.40" y2="123.5" stroke="#28287e" stroke-width="1.1"/>
<line x1="495.56" y1="120.2" x2="495.56" y2="122.4" stroke="#28287e" stroke-width="0.8"/>
<line x1="499.76" y1="120.2" x2="499.76" y2="122.4" stroke="#28287e" stroke-width="0.8"/>
<line x1="502.73" y1="120.2" x2="502.73" y2="122.4" stroke="#28287e" stroke-width="0.8"/>
<line x1="505.04" y1="120.2" x2="505.04" y2="122.4" stroke="#28287e" stroke-width="0.8"/>
<line x1="506.92" y1="120.2" x2="506.92" y2="122.4" stroke="#28287e" stroke-width="0.8"/>
<line x1="508.51" y1="120.2" x2="508.51" y2="122.4" stroke="#28287e" stroke-width="0.8"/>
<line x1="509.89" y1="120.2" x2="509.89" y2="122.4" stroke="#28287e" stroke-width="0.8"/>
<line x1="511.11" y1="120.2" x2="511.11" y2="122.4" stroke="#28287e" stroke-width="0.8"/>
<line x1="512.20" y1="120.2" x2="512.20" y2="123.5" stroke="#28287e" stroke-width="1.1"/>
<text x="391.60" y="129.20" font-size="6.3" font-weight="bold" text-anchor="middle" fill="#111" >&#8211;3</text>
<text x="415.40" y="129.20" font-size="6.3" font-weight="bold" text-anchor="middle" fill="#111" >&#8211;2</text>
<text x="439.20" y="129.20" font-size="6.3" font-weight="bold" text-anchor="middle" fill="#111" >&#8211;1</text>
<text x="464.60" y="129.20" font-size="6.3" font-weight="bold" text-anchor="middle" fill="#111" >0</text>
<text x="488.40" y="129.20" font-size="6.3" font-weight="bold" text-anchor="middle" fill="#111" >1</text>
<text x="512.20" y="129.20" font-size="6.3" font-weight="bold" text-anchor="middle" fill="#111" >2</text>
<text transform="translate(360.90,70.60) rotate(-90)" x="0" y="0" font-size="6.6" font-weight="bold" text-anchor="middle" fill="#111" textLength="81.60" lengthAdjust="spacingAndGlyphs">Cell viability (% inhibition)</text>
<text x="454.95" y="140.60" font-size="7.4" font-weight="bold" text-anchor="middle" fill="#111"  textLength="44.9" lengthAdjust="spacingAndGlyphs">Log (nmol/L)</text>
<polyline points="406.29,98.20 407.80,98.20 409.30,98.20 410.81,98.20 412.32,98.20 413.83,98.20 415.33,98.20 416.84,98.20 418.35,98.20 419.86,98.20 421.36,98.20 422.87,98.20 424.38,98.20 425.89,98.20 427.39,98.20 428.90,98.19 430.41,98.19 431.91,98.19 433.42,98.19 434.93,98.19 436.44,98.19 437.94,98.19 439.45,98.19 440.96,98.18 442.47,98.18 443.97,98.18 445.48,98.17 446.99,98.16 448.50,98.15 450.00,98.13 451.51,98.11 453.02,98.08 454.52,98.05 456.03,98.00 457.54,97.93 459.05,97.85 460.55,97.75 462.06,97.61 463.57,97.45 465.08,97.25 466.58,97.02 468.09,96.75 469.60,96.46 471.11,96.15 472.61,95.83 474.12,95.52 475.63,95.23 477.13,94.97 478.64,94.74 480.15,94.55 481.66,94.39 483.16,94.26 484.67,94.16 486.18,94.08 487.69,94.02 489.19,93.97 490.70,93.94 492.21,93.91 493.72,93.89 495.22,93.87 496.73,93.86" fill="none" stroke="#f2a23c" stroke-width="1.5" stroke-linejoin="round"/>
<polyline points="406.29,100.07 407.80,100.07 409.30,100.07 410.81,100.07 412.32,100.07 413.83,100.07 415.33,100.07 416.84,100.07 418.35,100.06 419.86,100.06 421.36,100.06 422.87,100.06 424.38,100.06 425.89,100.06 427.39,100.06 428.90,100.06 430.41,100.06 431.91,100.05 433.42,100.05 434.93,100.05 436.44,100.04 437.94,100.04 439.45,100.03 440.96,100.03 442.47,100.02 443.97,100.01 445.48,100.00 446.99,99.98 448.50,99.97 450.00,99.95 451.51,99.92 453.02,99.90 454.52,99.86 456.03,99.82 457.54,99.78 459.05,99.72 460.55,99.66 462.06,99.58 463.57,99.49 465.08,99.38 466.58,99.25 468.09,99.10 469.60,98.92 471.11,98.70 472.61,98.45 474.12,98.16 475.63,97.81 477.13,97.41 478.64,96.94 480.15,96.39 481.66,95.76 483.16,95.04 484.67,94.21 486.18,93.27 487.69,92.22 489.19,91.04 490.70,89.74 492.21,88.32 493.72,86.79 495.22,85.15 496.73,83.44" fill="none" stroke="#cc2470" stroke-width="1.5" stroke-linejoin="round"/>
<polyline points="406.29,100.07 407.80,100.07 409.30,100.07 410.81,100.07 412.32,100.07 413.83,100.07 415.33,100.07 416.84,100.07 418.35,100.07 419.86,100.07 421.36,100.07 422.87,100.07 424.38,100.07 425.89,100.06 427.39,100.06 428.90,100.06 430.41,100.06 431.91,100.06 433.42,100.06 434.93,100.06 436.44,100.06 437.94,100.05 439.45,100.05 440.96,100.05 442.47,100.04 443.97,100.04 445.48,100.03 446.99,100.02 448.50,100.02 450.00,100.00 451.51,99.99 453.02,99.98 454.52,99.96 456.03,99.93 457.54,99.90 459.05,99.87 460.55,99.83 462.06,99.78 463.57,99.72 465.08,99.65 466.58,99.56 468.09,99.46 469.60,99.34 471.11,99.19 472.61,99.01 474.12,98.79 475.63,98.54 477.13,98.24 478.64,97.88 480.15,97.45 481.66,96.96 483.16,96.37 484.67,95.70 486.18,94.92 487.69,94.03 489.19,93.01 490.70,91.88 492.21,90.63 493.72,89.25 495.22,87.78 496.73,86.21" fill="none" stroke="#111111" stroke-width="1.5" stroke-linejoin="round"/>
<polyline points="406.29,92.58 407.80,92.58 409.30,92.57 410.81,92.57 412.32,92.57 413.83,92.57 415.33,92.57 416.84,92.56 418.35,92.56 419.86,92.55 421.36,92.55 422.87,92.54 424.38,92.52 425.89,92.51 427.39,92.49 428.90,92.47 430.41,92.43 431.91,92.40 433.42,92.34 434.93,92.28 436.44,92.20 437.94,92.10 439.45,91.97 440.96,91.81 442.47,91.60 443.97,91.34 445.48,91.02 446.99,90.61 448.50,90.11 450.00,89.49 451.51,88.72 453.02,87.79 454.52,86.66 456.03,85.32 457.54,83.75 459.05,81.94 460.55,79.90 462.06,77.65 463.57,75.22 465.08,72.68 466.58,70.10 468.09,67.54 469.60,65.08 471.11,62.78 472.61,60.68 474.12,58.81 475.63,57.17 477.13,55.77 478.64,54.60 480.15,53.61 481.66,52.81 483.16,52.15 484.67,51.61 486.18,51.18 487.69,50.84 489.19,50.56 490.70,50.35 492.21,50.17 493.72,50.04 495.22,49.93 496.73,49.84" fill="none" stroke="#2e4292" stroke-width="1.5" stroke-linejoin="round"/>
<polyline points="406.29,87.90 407.80,87.89 409.30,87.89 410.81,87.89 412.32,87.89 413.83,87.89 415.33,87.88 416.84,87.88 418.35,87.87 419.86,87.87 421.36,87.86 422.87,87.85 424.38,87.84 425.89,87.82 427.39,87.81 428.90,87.78 430.41,87.75 431.91,87.72 433.42,87.68 434.93,87.62 436.44,87.55 437.94,87.47 439.45,87.37 440.96,87.24 442.47,87.08 443.97,86.89 445.48,86.65 446.99,86.36 448.50,86.00 450.00,85.56 451.51,85.03 453.02,84.38 454.52,83.60 456.03,82.67 457.54,81.57 459.05,80.27 460.55,78.77 462.06,77.05 463.57,75.12 465.08,72.97 466.58,70.64 468.09,68.16 469.60,65.58 471.11,62.96 472.61,60.35 474.12,57.83 475.63,55.43 477.13,53.20 478.64,51.18 480.15,49.37 481.66,47.77 483.16,46.39 484.67,45.21 486.18,44.21 487.69,43.37 489.19,42.67 490.70,42.09 492.21,41.61 493.72,41.22 495.22,40.90 496.73,40.64" fill="none" stroke="#18733f" stroke-width="1.5" stroke-linejoin="round"/>
<path d="M404.30,102.29L408.29,102.29L406.29,98.70Z" fill="#111111"/>
<path d="M417.65,101.32V105.06M416.05,101.32H419.25M416.05,105.06H419.25" stroke="#111111" stroke-width="0.9" fill="none"/>
<path d="M415.65,104.78L419.64,104.78L417.65,101.19Z" fill="#111111"/>
<path d="M427.01,102.29L431.00,102.29L429.00,98.70Z" fill="#111111"/>
<path d="M440.36,104.44V106.93M438.76,104.44H441.96M438.76,106.93H441.96" stroke="#111111" stroke-width="0.9" fill="none"/>
<path d="M438.36,107.28L442.35,107.28L440.36,103.69Z" fill="#111111"/>
<path d="M449.72,101.66L453.71,101.66L451.71,98.07Z" fill="#111111"/>
<path d="M461.07,99.17L465.06,99.17L463.07,95.58Z" fill="#111111"/>
<path d="M472.43,98.54L476.42,98.54L474.42,94.95Z" fill="#111111"/>
<path d="M483.78,95.42L487.77,95.42L485.78,91.83Z" fill="#111111"/>
<path d="M497.13,85.09V87.59M495.53,85.09H498.73M495.53,87.59H498.73" stroke="#111111" stroke-width="0.9" fill="none"/>
<path d="M495.14,87.94L499.13,87.94L497.13,84.34Z" fill="#111111"/>
<circle cx="406.29" cy="100.07" r="1.68" fill="#cc2470"/>
<path d="M417.65,98.82V102.56M416.05,98.82H419.25M416.05,102.56H419.25" stroke="#cc2470" stroke-width="0.9" fill="none"/>
<circle cx="417.65" cy="100.69" r="1.68" fill="#cc2470"/>
<circle cx="429.00" cy="100.07" r="1.68" fill="#cc2470"/>
<circle cx="440.36" cy="100.07" r="1.68" fill="#cc2470"/>
<circle cx="451.71" cy="99.44" r="1.68" fill="#cc2470"/>
<circle cx="463.07" cy="98.82" r="1.68" fill="#cc2470"/>
<circle cx="474.42" cy="96.32" r="1.68" fill="#cc2470"/>
<circle cx="485.78" cy="91.96" r="1.68" fill="#cc2470"/>
<path d="M497.13,81.97V84.47M495.53,81.97H498.73M495.53,84.47H498.73" stroke="#cc2470" stroke-width="0.9" fill="none"/>
<circle cx="497.13" cy="83.22" r="1.68" fill="#cc2470"/>
<rect x="404.72" y="96.62" width="3.15" height="3.15" fill="#f2a23c"/>
<rect x="416.07" y="96.62" width="3.15" height="3.15" fill="#f2a23c"/>
<rect x="427.43" y="96.00" width="3.15" height="3.15" fill="#f2a23c"/>
<rect x="438.78" y="96.62" width="3.15" height="3.15" fill="#f2a23c"/>
<rect x="450.14" y="94.12" width="3.15" height="3.15" fill="#f2a23c"/>
<rect x="461.49" y="94.12" width="3.15" height="3.15" fill="#f2a23c"/>
<rect x="472.85" y="93.50" width="3.15" height="3.15" fill="#f2a23c"/>
<rect x="484.20" y="92.88" width="3.15" height="3.15" fill="#f2a23c"/>
<rect x="495.56" y="92.56" width="3.15" height="3.15" fill="#f2a23c"/>
<path d="M404.30,93.83L406.29,91.83L408.29,93.83L406.29,95.82Z" fill="#2e4292"/>
<path d="M415.65,92.58L417.65,90.58L419.64,92.58L417.65,94.58Z" fill="#2e4292"/>
<path d="M427.01,90.71L429.00,88.71L431.00,90.71L429.00,92.70Z" fill="#2e4292"/>
<path d="M440.36,89.77V93.52M438.76,89.77H441.96M438.76,93.52H441.96" stroke="#2e4292" stroke-width="0.9" fill="none"/>
<path d="M438.36,91.64L440.36,89.65L442.35,91.64L440.36,93.64Z" fill="#2e4292"/>
<path d="M449.72,85.09L451.71,83.10L453.71,85.09L451.71,87.09Z" fill="#2e4292"/>
<path d="M461.07,76.36L463.07,74.36L465.06,76.36L463.07,78.35Z" fill="#2e4292"/>
<path d="M472.43,58.26L474.42,56.27L476.42,58.26L474.42,60.26Z" fill="#2e4292"/>
<path d="M483.78,52.89L485.78,50.90L487.77,52.89L485.78,54.89Z" fill="#2e4292"/>
<path d="M495.14,49.52L497.13,47.53L499.13,49.52L497.13,51.52Z" fill="#2e4292"/>
<path d="M404.30,87.86L408.29,87.86L406.29,91.46Z" fill="#18733f"/>
<path d="M415.65,86.30L419.64,86.30L417.65,89.90Z" fill="#18733f"/>
<path d="M427.01,83.12L431.00,83.12L429.00,86.71Z" fill="#18733f"/>
<path d="M440.36,81.47V85.22M438.76,81.47H441.96M438.76,85.22H441.96" stroke="#18733f" stroke-width="0.9" fill="none"/>
<path d="M438.36,81.75L442.35,81.75L440.36,85.34Z" fill="#18733f"/>
<path d="M449.72,80.38L453.71,80.38L451.71,83.97Z" fill="#18733f"/>
<path d="M461.07,74.32L465.06,74.32L463.07,77.91Z" fill="#18733f"/>
<path d="M472.43,56.23L476.42,56.23L474.42,59.82Z" fill="#18733f"/>
<path d="M483.78,42.31L487.77,42.31L485.78,45.90Z" fill="#18733f"/>
<path d="M495.14,39.63L499.13,39.63L497.13,43.22Z" fill="#18733f"/>
<line x1="28.6" y1="197.00" x2="28.6" y2="273.44" stroke="#28287e" stroke-width="1.5"/>
<line x1="25.0" y1="272.84" x2="28.6" y2="272.84" stroke="#28287e" stroke-width="1.3"/>
<text x="23.90" y="275.46" font-size="6.3" font-weight="bold" text-anchor="end" fill="#111" >&#8211;20</text>
<line x1="25.0" y1="260.30" x2="28.6" y2="260.30" stroke="#28287e" stroke-width="1.3"/>
<text x="23.90" y="262.92" font-size="6.3" font-weight="bold" text-anchor="end" fill="#111" >0</text>
<line x1="25.0" y1="247.76" x2="28.6" y2="247.76" stroke="#28287e" stroke-width="1.3"/>
<text x="23.90" y="250.38" font-size="6.3" font-weight="bold" text-anchor="end" fill="#111" >20</text>
<line x1="25.0" y1="235.22" x2="28.6" y2="235.22" stroke="#28287e" stroke-width="1.3"/>
<text x="23.90" y="237.84" font-size="6.3" font-weight="bold" text-anchor="end" fill="#111" >40</text>
<line x1="25.0" y1="222.68" x2="28.6" y2="222.68" stroke="#28287e" stroke-width="1.3"/>
<text x="23.90" y="225.30" font-size="6.3" font-weight="bold" text-anchor="end" fill="#111" >60</text>
<line x1="25.0" y1="210.14" x2="28.6" y2="210.14" stroke="#28287e" stroke-width="1.3"/>
<text x="23.90" y="212.76" font-size="6.3" font-weight="bold" text-anchor="end" fill="#111" >80</text>
<line x1="25.0" y1="197.60" x2="28.6" y2="197.60" stroke="#28287e" stroke-width="1.3"/>
<text x="23.90" y="200.22" font-size="6.3" font-weight="bold" text-anchor="end" fill="#111" >100</text>
<line x1="29.3" y1="260.30" x2="160" y2="260.30" stroke="#8a8aa2" stroke-width="1.0"/>
<line x1="40.40" y1="284.8" x2="160.40" y2="284.8" stroke="#28287e" stroke-width="1.5"/>
<line x1="41.00" y1="284.8" x2="41.00" y2="288.1" stroke="#28287e" stroke-width="1.1"/>
<line x1="46.96" y1="284.8" x2="46.96" y2="287.0" stroke="#28287e" stroke-width="0.8"/>
<line x1="50.45" y1="284.8" x2="50.45" y2="287.0" stroke="#28287e" stroke-width="0.8"/>
<line x1="52.92" y1="284.8" x2="52.92" y2="287.0" stroke="#28287e" stroke-width="0.8"/>
<line x1="54.84" y1="284.8" x2="54.84" y2="287.0" stroke="#28287e" stroke-width="0.8"/>
<line x1="56.41" y1="284.8" x2="56.41" y2="287.0" stroke="#28287e" stroke-width="0.8"/>
<line x1="57.73" y1="284.8" x2="57.73" y2="287.0" stroke="#28287e" stroke-width="0.8"/>
<line x1="58.88" y1="284.8" x2="58.88" y2="287.0" stroke="#28287e" stroke-width="0.8"/>
<line x1="59.89" y1="284.8" x2="59.89" y2="287.0" stroke="#28287e" stroke-width="0.8"/>
<line x1="60.80" y1="284.8" x2="60.80" y2="288.1" stroke="#28287e" stroke-width="1.1"/>
<line x1="66.76" y1="284.8" x2="66.76" y2="287.0" stroke="#28287e" stroke-width="0.8"/>
<line x1="70.25" y1="284.8" x2="70.25" y2="287.0" stroke="#28287e" stroke-width="0.8"/>
<line x1="72.72" y1="284.8" x2="72.72" y2="287.0" stroke="#28287e" stroke-width="0.8"/>
<line x1="74.64" y1="284.8" x2="74.64" y2="287.0" stroke="#28287e" stroke-width="0.8"/>
<line x1="76.21" y1="284.8" x2="76.21" y2="287.0" stroke="#28287e" stroke-width="0.8"/>
<line x1="77.53" y1="284.8" x2="77.53" y2="287.0" stroke="#28287e" stroke-width="0.8"/>
<line x1="78.68" y1="284.8" x2="78.68" y2="287.0" stroke="#28287e" stroke-width="0.8"/>
<line x1="79.69" y1="284.8" x2="79.69" y2="287.0" stroke="#28287e" stroke-width="0.8"/>
<line x1="80.60" y1="284.8" x2="80.60" y2="288.1" stroke="#28287e" stroke-width="1.1"/>
<line x1="86.56" y1="284.8" x2="86.56" y2="287.0" stroke="#28287e" stroke-width="0.8"/>
<line x1="90.05" y1="284.8" x2="90.05" y2="287.0" stroke="#28287e" stroke-width="0.8"/>
<line x1="92.52" y1="284.8" x2="92.52" y2="287.0" stroke="#28287e" stroke-width="0.8"/>
<line x1="94.44" y1="284.8" x2="94.44" y2="287.0" stroke="#28287e" stroke-width="0.8"/>
<line x1="96.01" y1="284.8" x2="96.01" y2="287.0" stroke="#28287e" stroke-width="0.8"/>
<line x1="97.33" y1="284.8" x2="97.33" y2="287.0" stroke="#28287e" stroke-width="0.8"/>
<line x1="98.48" y1="284.8" x2="98.48" y2="287.0" stroke="#28287e" stroke-width="0.8"/>
<line x1="99.49" y1="284.8" x2="99.49" y2="287.0" stroke="#28287e" stroke-width="0.8"/>
<line x1="100.40" y1="284.8" x2="100.40" y2="288.1" stroke="#28287e" stroke-width="1.1"/>
<line x1="106.36" y1="284.8" x2="106.36" y2="287.0" stroke="#28287e" stroke-width="0.8"/>
<line x1="109.85" y1="284.8" x2="109.85" y2="287.0" stroke="#28287e" stroke-width="0.8"/>
<line x1="112.32" y1="284.8" x2="112.32" y2="287.0" stroke="#28287e" stroke-width="0.8"/>
<line x1="114.24" y1="284.8" x2="114.24" y2="287.0" stroke="#28287e" stroke-width="0.8"/>
<line x1="115.81" y1="284.8" x2="115.81" y2="287.0" stroke="#28287e" stroke-width="0.8"/>
<line x1="117.13" y1="284.8" x2="117.13" y2="287.0" stroke="#28287e" stroke-width="0.8"/>
<line x1="118.28" y1="284.8" x2="118.28" y2="287.0" stroke="#28287e" stroke-width="0.8"/>
<line x1="119.29" y1="284.8" x2="119.29" y2="287.0" stroke="#28287e" stroke-width="0.8"/>
<line x1="120.20" y1="284.8" x2="120.20" y2="288.1" stroke="#28287e" stroke-width="1.1"/>
<line x1="126.16" y1="284.8" x2="126.16" y2="287.0" stroke="#28287e" stroke-width="0.8"/>
<line x1="129.65" y1="284.8" x2="129.65" y2="287.0" stroke="#28287e" stroke-width="0.8"/>
<line x1="132.12" y1="284.8" x2="132.12" y2="287.0" stroke="#28287e" stroke-width="0.8"/>
<line x1="134.04" y1="284.8" x2="134.04" y2="287.0" stroke="#28287e" stroke-width="0.8"/>
<line x1="135.61" y1="284.8" x2="135.61" y2="287.0" stroke="#28287e" stroke-width="0.8"/>
<line x1="136.93" y1="284.8" x2="136.93" y2="287.0" stroke="#28287e" stroke-width="0.8"/>
<line x1="138.08" y1="284.8" x2="138.08" y2="287.0" stroke="#28287e" stroke-width="0.8"/>
<line x1="139.09" y1="284.8" x2="139.09" y2="287.0" stroke="#28287e" stroke-width="0.8"/>
<line x1="140.00" y1="284.8" x2="140.00" y2="288.1" stroke="#28287e" stroke-width="1.1"/>
<line x1="145.96" y1="284.8" x2="145.96" y2="287.0" stroke="#28287e" stroke-width="0.8"/>
<line x1="149.45" y1="284.8" x2="149.45" y2="287.0" stroke="#28287e" stroke-width="0.8"/>
<line x1="151.92" y1="284.8" x2="151.92" y2="287.0" stroke="#28287e" stroke-width="0.8"/>
<line x1="153.84" y1="284.8" x2="153.84" y2="287.0" stroke="#28287e" stroke-width="0.8"/>
<line x1="155.41" y1="284.8" x2="155.41" y2="287.0" stroke="#28287e" stroke-width="0.8"/>
<line x1="156.73" y1="284.8" x2="156.73" y2="287.0" stroke="#28287e" stroke-width="0.8"/>
<line x1="157.88" y1="284.8" x2="157.88" y2="287.0" stroke="#28287e" stroke-width="0.8"/>
<line x1="158.89" y1="284.8" x2="158.89" y2="287.0" stroke="#28287e" stroke-width="0.8"/>
<line x1="159.80" y1="284.8" x2="159.80" y2="288.1" stroke="#28287e" stroke-width="1.1"/>
<text x="39.40" y="295.10" font-size="6.3" font-weight="bold" text-anchor="middle" fill="#111" >&#8211;3</text>
<text x="59.20" y="295.10" font-size="6.3" font-weight="bold" text-anchor="middle" fill="#111" >&#8211;2</text>
<text x="79.00" y="295.10" font-size="6.3" font-weight="bold" text-anchor="middle" fill="#111" >&#8211;1</text>
<text x="100.40" y="295.10" font-size="6.3" font-weight="bold" text-anchor="middle" fill="#111" >0</text>
<text x="120.20" y="295.10" font-size="6.3" font-weight="bold" text-anchor="middle" fill="#111" >1</text>
<text x="140.00" y="295.10" font-size="6.3" font-weight="bold" text-anchor="middle" fill="#111" >2</text>
<text x="159.80" y="295.10" font-size="6.3" font-weight="bold" text-anchor="middle" fill="#111" >3</text>
<text transform="translate(8.10,235.00) rotate(-90)" x="0" y="0" font-size="6.6" font-weight="bold" text-anchor="middle" fill="#111" textLength="81.60" lengthAdjust="spacingAndGlyphs">Cell viability (% inhibition)</text>
<text x="95.75" y="308.20" font-size="6.5" font-weight="bold" text-anchor="middle" fill="#111"  textLength="39.5" lengthAdjust="spacingAndGlyphs">Log (nmol/L)</text>
<polyline points="60.80,256.22 62.22,256.22 63.64,256.22 65.06,256.22 66.48,256.22 67.90,256.22 69.31,256.22 70.73,256.22 72.15,256.22 73.57,256.22 74.99,256.22 76.41,256.22 77.83,256.22 79.25,256.22 80.67,256.22 82.09,256.22 83.50,256.22 84.92,256.22 86.34,256.22 87.76,256.22 89.18,256.22 90.60,256.22 92.02,256.22 93.44,256.22 94.86,256.22 96.28,256.22 97.69,256.22 99.11,256.22 100.53,256.22 101.95,256.22 103.37,256.22 104.79,256.22 106.21,256.02 107.63,252.26 109.05,250.62 110.47,250.58 111.88,250.58 113.30,250.58 114.72,250.58 116.14,250.58 117.56,250.58 118.98,250.58 120.40,250.58 121.82,250.58 123.24,250.58 124.66,250.58 126.07,250.58 127.49,250.58 128.91,250.58 130.33,250.58 131.75,250.58 133.17,250.58 134.59,250.58 136.01,250.58 137.43,250.58 138.85,250.58 140.26,250.58 141.68,250.58 143.10,250.58 144.52,250.58 145.94,250.58" fill="none" stroke="#cc2470" stroke-width="1.5" stroke-linejoin="round"/>
<polyline points="60.80,257.11 62.22,257.10 63.64,257.08 65.06,257.06 66.48,257.04 67.90,257.01 69.31,256.98 70.73,256.94 72.15,256.89 73.57,256.83 74.99,256.76 76.41,256.68 77.83,256.57 79.25,256.45 80.67,256.30 82.09,256.13 83.50,255.92 84.92,255.67 86.34,255.39 87.76,255.05 89.18,254.67 90.60,254.24 92.02,253.75 93.44,253.21 94.86,252.61 96.28,251.97 97.69,251.30 99.11,250.60 100.53,249.89 101.95,249.18 103.37,248.48 104.79,247.81 106.21,247.18 107.63,246.60 109.05,246.07 110.47,245.59 111.88,245.16 113.30,244.79 114.72,244.47 116.14,244.19 117.56,243.95 118.98,243.75 120.40,243.58 121.82,243.44 123.24,243.32 124.66,243.22 126.07,243.13 127.49,243.07 128.91,243.01 130.33,242.96 131.75,242.92 133.17,242.89 134.59,242.87 136.01,242.84 137.43,242.83 138.85,242.81 140.26,242.80 141.68,242.79 143.10,242.78 144.52,242.77 145.94,242.77" fill="none" stroke="#2e4292" stroke-width="1.5" stroke-linejoin="round"/>
<polyline points="60.80,255.92 62.22,255.83 63.64,255.72 65.06,255.60 66.48,255.45 67.90,255.29 69.31,255.11 70.73,254.90 72.15,254.67 73.57,254.41 74.99,254.11 76.41,253.78 77.83,253.42 79.25,253.02 80.67,252.59 82.09,252.11 83.50,251.60 84.92,251.06 86.34,250.49 87.76,249.88 89.18,249.26 90.60,248.62 92.02,247.97 93.44,247.32 94.86,246.67 96.28,246.04 97.69,245.42 99.11,244.83 100.53,244.27 101.95,243.73 103.37,243.24 104.79,242.78 106.21,242.35 107.63,241.97 109.05,241.62 110.47,241.30 111.88,241.02 113.30,240.77 114.72,240.54 116.14,240.34 117.56,240.17 118.98,240.01 120.40,239.88 121.82,239.76 123.24,239.66 124.66,239.57 126.07,239.49 127.49,239.42 128.91,239.36 130.33,239.31 131.75,239.27 133.17,239.23 134.59,239.19 136.01,239.16 137.43,239.14 138.85,239.12 140.26,239.10 141.68,239.08 143.10,239.07 144.52,239.06 145.94,239.05" fill="none" stroke="#f2a23c" stroke-width="1.5" stroke-linejoin="round"/>
<polyline points="60.80,256.42 62.22,256.40 63.64,256.37 65.06,256.34 66.48,256.30 67.90,256.26 69.31,256.20 70.73,256.14 72.15,256.06 73.57,255.97 74.99,255.86 76.41,255.73 77.83,255.58 79.25,255.40 80.67,255.19 82.09,254.94 83.50,254.66 84.92,254.33 86.34,253.95 87.76,253.53 89.18,253.04 90.60,252.50 92.02,251.90 93.44,251.25 94.86,250.54 96.28,249.79 97.69,249.00 99.11,248.19 100.53,247.37 101.95,246.55 103.37,245.74 104.79,244.96 106.21,244.22 107.63,243.52 109.05,242.88 110.47,242.29 111.88,241.76 113.30,241.28 114.72,240.86 116.14,240.50 117.56,240.18 118.98,239.90 120.40,239.66 121.82,239.46 123.24,239.28 124.66,239.14 126.07,239.01 127.49,238.91 128.91,238.82 130.33,238.74 131.75,238.68 133.17,238.63 134.59,238.58 136.01,238.54 137.43,238.51 138.85,238.49 140.26,238.47 141.68,238.45 143.10,238.43 144.52,238.42 145.94,238.41" fill="none" stroke="#18733f" stroke-width="1.5" stroke-linejoin="round"/>
<polyline points="60.80,256.37 62.22,256.34 63.64,256.31 65.06,256.28 66.48,256.24 67.90,256.19 69.31,256.13 70.73,256.07 72.15,256.00 73.57,255.91 74.99,255.82 76.41,255.70 77.83,255.57 79.25,255.43 80.67,255.26 82.09,255.06 83.50,254.84 84.92,254.59 86.34,254.30 87.76,253.98 89.18,253.61 90.60,253.20 92.02,252.75 93.44,252.24 94.86,251.67 96.28,251.05 97.69,250.37 99.11,249.64 100.53,248.85 101.95,248.01 103.37,247.12 104.79,246.19 106.21,245.23 107.63,244.24 109.05,243.24 110.47,242.24 111.88,241.25 113.30,240.28 114.72,239.34 116.14,238.43 117.56,237.57 118.98,236.76 120.40,236.01 121.82,235.31 123.24,234.67 124.66,234.08 126.07,233.55 127.49,233.08 128.91,232.65 130.33,232.27 131.75,231.93 133.17,231.63 134.59,231.36 136.01,231.13 137.43,230.93 138.85,230.75 140.26,230.59 141.68,230.46 143.10,230.34 144.52,230.24 145.94,230.15" fill="none" stroke="#111111" stroke-width="1.5" stroke-linejoin="round"/>
<circle cx="60.80" cy="257.17" r="1.68" fill="#cc2470"/>
<circle cx="70.25" cy="257.79" r="1.68" fill="#cc2470"/>
<circle cx="79.69" cy="257.17" r="1.68" fill="#cc2470"/>
<path d="M89.14,254.03V259.05M87.54,254.03H90.74M87.54,259.05H90.74" stroke="#cc2470" stroke-width="0.9" fill="none"/>
<circle cx="89.14" cy="256.54" r="1.68" fill="#cc2470"/>
<circle cx="98.59" cy="255.91" r="1.68" fill="#cc2470"/>
<circle cx="108.04" cy="255.28" r="1.68" fill="#cc2470"/>
<circle cx="117.48" cy="247.76" r="1.68" fill="#cc2470"/>
<path d="M126.93,248.39V253.40M125.33,248.39H128.53M125.33,253.40H128.53" stroke="#cc2470" stroke-width="0.9" fill="none"/>
<circle cx="126.93" cy="250.90" r="1.68" fill="#cc2470"/>
<path d="M136.38,247.76V252.78M134.78,247.76H137.98M134.78,252.78H137.98" stroke="#cc2470" stroke-width="0.9" fill="none"/>
<circle cx="136.38" cy="250.27" r="1.68" fill="#cc2470"/>
<path d="M145.82,248.39V253.40M144.22,248.39H147.42M144.22,253.40H147.42" stroke="#cc2470" stroke-width="0.9" fill="none"/>
<circle cx="145.82" cy="250.90" r="1.68" fill="#cc2470"/>
<path d="M58.81,257.17L60.80,255.17L62.80,257.17L60.80,259.16Z" fill="#2e4292"/>
<path d="M68.25,258.42L70.25,256.42L72.24,258.42L70.25,260.41Z" fill="#2e4292"/>
<path d="M77.70,256.54L79.69,254.54L81.69,256.54L79.69,258.53Z" fill="#2e4292"/>
<path d="M87.15,254.03L89.14,252.03L91.14,254.03L89.14,256.02Z" fill="#2e4292"/>
<path d="M96.59,247.76L98.59,245.77L100.58,247.76L98.59,249.76Z" fill="#2e4292"/>
<path d="M106.04,246.51L108.04,244.51L110.03,246.51L108.04,248.50Z" fill="#2e4292"/>
<path d="M117.48,242.74V246.51M115.88,242.74H119.08M115.88,246.51H119.08" stroke="#2e4292" stroke-width="0.9" fill="none"/>
<path d="M115.49,244.62L117.48,242.63L119.48,244.62L117.48,246.62Z" fill="#2e4292"/>
<path d="M126.93,241.49V245.25M125.33,241.49H128.53M125.33,245.25H128.53" stroke="#2e4292" stroke-width="0.9" fill="none"/>
<path d="M124.93,243.37L126.93,241.38L128.92,243.37L126.93,245.37Z" fill="#2e4292"/>
<path d="M136.38,240.86V244.62M134.78,240.86H137.98M134.78,244.62H137.98" stroke="#2e4292" stroke-width="0.9" fill="none"/>
<path d="M134.38,242.74L136.38,240.75L138.37,242.74L136.38,244.74Z" fill="#2e4292"/>
<path d="M145.82,240.86V244.62M144.22,240.86H147.42M144.22,244.62H147.42" stroke="#2e4292" stroke-width="0.9" fill="none"/>
<path d="M143.83,242.74L145.82,240.75L147.82,242.74L145.82,244.74Z" fill="#2e4292"/>
<rect x="59.23" y="253.08" width="3.15" height="3.15" fill="#f2a23c"/>
<rect x="68.67" y="252.46" width="3.15" height="3.15" fill="#f2a23c"/>
<rect x="78.12" y="251.20" width="3.15" height="3.15" fill="#f2a23c"/>
<rect x="87.57" y="249.95" width="3.15" height="3.15" fill="#f2a23c"/>
<path d="M98.59,243.37V247.13M96.99,243.37H100.19M96.99,247.13H100.19" stroke="#f2a23c" stroke-width="0.9" fill="none"/>
<rect x="97.01" y="243.68" width="3.15" height="3.15" fill="#f2a23c"/>
<rect x="106.46" y="241.17" width="3.15" height="3.15" fill="#f2a23c"/>
<rect x="115.91" y="238.66" width="3.15" height="3.15" fill="#f2a23c"/>
<rect x="125.35" y="238.03" width="3.15" height="3.15" fill="#f2a23c"/>
<rect x="134.80" y="237.41" width="3.15" height="3.15" fill="#f2a23c"/>
<rect x="144.25" y="238.66" width="3.15" height="3.15" fill="#f2a23c"/>
<path d="M60.80,252.78V256.54M59.20,252.78H62.40M59.20,256.54H62.40" stroke="#18733f" stroke-width="0.9" fill="none"/>
<path d="M58.81,253.06L62.80,253.06L60.80,256.65Z" fill="#18733f"/>
<path d="M68.25,254.94L72.24,254.94L70.25,258.53Z" fill="#18733f"/>
<path d="M77.70,253.69L81.69,253.69L79.69,257.28Z" fill="#18733f"/>
<path d="M87.15,249.93L91.14,249.93L89.14,253.52Z" fill="#18733f"/>
<path d="M96.59,246.16L100.58,246.16L98.59,249.76Z" fill="#18733f"/>
<path d="M106.04,241.15L110.03,241.15L108.04,244.74Z" fill="#18733f"/>
<path d="M115.49,238.64L119.48,238.64L117.48,242.23Z" fill="#18733f"/>
<path d="M124.93,236.76L128.92,236.76L126.93,240.35Z" fill="#18733f"/>
<path d="M134.38,236.76L138.37,236.76L136.38,240.35Z" fill="#18733f"/>
<path d="M145.82,237.73V241.49M144.22,237.73H147.42M144.22,241.49H147.42" stroke="#18733f" stroke-width="0.9" fill="none"/>
<path d="M143.83,238.01L147.82,238.01L145.82,241.60Z" fill="#18733f"/>
<path d="M58.81,256.88L62.80,256.88L60.80,253.29Z" fill="#111111"/>
<path d="M68.25,257.51L72.24,257.51L70.25,253.92Z" fill="#111111"/>
<path d="M77.70,256.25L81.69,256.25L79.69,252.66Z" fill="#111111"/>
<path d="M87.15,249.98L91.14,249.98L89.14,246.39Z" fill="#111111"/>
<path d="M98.59,249.01V252.78M96.99,249.01H100.19M96.99,252.78H100.19" stroke="#111111" stroke-width="0.9" fill="none"/>
<path d="M96.59,252.49L100.58,252.49L98.59,248.90Z" fill="#111111"/>
<path d="M106.04,244.34L110.03,244.34L108.04,240.75Z" fill="#111111"/>
<path d="M117.48,234.59V238.36M115.88,234.59H119.08M115.88,238.36H119.08" stroke="#111111" stroke-width="0.9" fill="none"/>
<path d="M115.49,238.07L119.48,238.07L117.48,234.48Z" fill="#111111"/>
<path d="M126.93,228.95V232.71M125.33,228.95H128.53M125.33,232.71H128.53" stroke="#111111" stroke-width="0.9" fill="none"/>
<path d="M124.93,232.43L128.92,232.43L126.93,228.84Z" fill="#111111"/>
<path d="M136.38,228.95V232.71M134.78,228.95H137.98M134.78,232.71H137.98" stroke="#111111" stroke-width="0.9" fill="none"/>
<path d="M134.38,232.43L138.37,232.43L136.38,228.84Z" fill="#111111"/>
<path d="M145.82,230.20V233.97M144.22,230.20H147.42M144.22,233.97H147.42" stroke="#111111" stroke-width="0.9" fill="none"/>
<path d="M143.83,233.68L147.82,233.68L145.82,230.09Z" fill="#111111"/>
<line x1="208.3" y1="197.70" x2="208.3" y2="273.30" stroke="#28287e" stroke-width="1.5"/>
<line x1="204.70000000000002" y1="272.70" x2="208.3" y2="272.70" stroke="#28287e" stroke-width="1.3"/>
<text x="203.60" y="275.32" font-size="6.3" font-weight="bold" text-anchor="end" fill="#111" >&#8211;20</text>
<line x1="204.70000000000002" y1="260.30" x2="208.3" y2="260.30" stroke="#28287e" stroke-width="1.3"/>
<text x="203.60" y="262.92" font-size="6.3" font-weight="bold" text-anchor="end" fill="#111" >0</text>
<line x1="204.70000000000002" y1="247.90" x2="208.3" y2="247.90" stroke="#28287e" stroke-width="1.3"/>
<text x="203.60" y="250.52" font-size="6.3" font-weight="bold" text-anchor="end" fill="#111" >20</text>
<line x1="204.70000000000002" y1="235.50" x2="208.3" y2="235.50" stroke="#28287e" stroke-width="1.3"/>
<text x="203.60" y="238.12" font-size="6.3" font-weight="bold" text-anchor="end" fill="#111" >40</text>
<line x1="204.70000000000002" y1="223.10" x2="208.3" y2="223.10" stroke="#28287e" stroke-width="1.3"/>
<text x="203.60" y="225.72" font-size="6.3" font-weight="bold" text-anchor="end" fill="#111" >60</text>
<line x1="204.70000000000002" y1="210.70" x2="208.3" y2="210.70" stroke="#28287e" stroke-width="1.3"/>
<text x="203.60" y="213.32" font-size="6.3" font-weight="bold" text-anchor="end" fill="#111" >80</text>
<line x1="204.70000000000002" y1="198.30" x2="208.3" y2="198.30" stroke="#28287e" stroke-width="1.3"/>
<text x="203.60" y="200.92" font-size="6.3" font-weight="bold" text-anchor="end" fill="#111" >100</text>
<line x1="209.0" y1="260.30" x2="338.2" y2="260.30" stroke="#6a6a82" stroke-width="1.0"/>
<line x1="239.30" y1="284.7" x2="337.70" y2="284.7" stroke="#28287e" stroke-width="1.5"/>
<line x1="239.90" y1="284.7" x2="239.90" y2="288.0" stroke="#28287e" stroke-width="1.1"/>
<line x1="244.78" y1="284.7" x2="244.78" y2="286.9" stroke="#28287e" stroke-width="0.8"/>
<line x1="247.63" y1="284.7" x2="247.63" y2="286.9" stroke="#28287e" stroke-width="0.8"/>
<line x1="249.65" y1="284.7" x2="249.65" y2="286.9" stroke="#28287e" stroke-width="0.8"/>
<line x1="251.22" y1="284.7" x2="251.22" y2="286.9" stroke="#28287e" stroke-width="0.8"/>
<line x1="252.51" y1="284.7" x2="252.51" y2="286.9" stroke="#28287e" stroke-width="0.8"/>
<line x1="253.59" y1="284.7" x2="253.59" y2="286.9" stroke="#28287e" stroke-width="0.8"/>
<line x1="254.53" y1="284.7" x2="254.53" y2="286.9" stroke="#28287e" stroke-width="0.8"/>
<line x1="255.36" y1="284.7" x2="255.36" y2="286.9" stroke="#28287e" stroke-width="0.8"/>
<line x1="256.10" y1="284.7" x2="256.10" y2="288.0" stroke="#28287e" stroke-width="1.1"/>
<line x1="260.98" y1="284.7" x2="260.98" y2="286.9" stroke="#28287e" stroke-width="0.8"/>
<line x1="263.83" y1="284.7" x2="263.83" y2="286.9" stroke="#28287e" stroke-width="0.8"/>
<line x1="265.85" y1="284.7" x2="265.85" y2="286.9" stroke="#28287e" stroke-width="0.8"/>
<line x1="267.42" y1="284.7" x2="267.42" y2="286.9" stroke="#28287e" stroke-width="0.8"/>
<line x1="268.71" y1="284.7" x2="268.71" y2="286.9" stroke="#28287e" stroke-width="0.8"/>
<line x1="269.79" y1="284.7" x2="269.79" y2="286.9" stroke="#28287e" stroke-width="0.8"/>
<line x1="270.73" y1="284.7" x2="270.73" y2="286.9" stroke="#28287e" stroke-width="0.8"/>
<line x1="271.56" y1="284.7" x2="271.56" y2="286.9" stroke="#28287e" stroke-width="0.8"/>
<line x1="272.30" y1="284.7" x2="272.30" y2="288.0" stroke="#28287e" stroke-width="1.1"/>
<line x1="277.18" y1="284.7" x2="277.18" y2="286.9" stroke="#28287e" stroke-width="0.8"/>
<line x1="280.03" y1="284.7" x2="280.03" y2="286.9" stroke="#28287e" stroke-width="0.8"/>
<line x1="282.05" y1="284.7" x2="282.05" y2="286.9" stroke="#28287e" stroke-width="0.8"/>
<line x1="283.62" y1="284.7" x2="283.62" y2="286.9" stroke="#28287e" stroke-width="0.8"/>
<line x1="284.91" y1="284.7" x2="284.91" y2="286.9" stroke="#28287e" stroke-width="0.8"/>
<line x1="285.99" y1="284.7" x2="285.99" y2="286.9" stroke="#28287e" stroke-width="0.8"/>
<line x1="286.93" y1="284.7" x2="286.93" y2="286.9" stroke="#28287e" stroke-width="0.8"/>
<line x1="287.76" y1="284.7" x2="287.76" y2="286.9" stroke="#28287e" stroke-width="0.8"/>
<line x1="288.50" y1="284.7" x2="288.50" y2="288.0" stroke="#28287e" stroke-width="1.1"/>
<line x1="293.38" y1="284.7" x2="293.38" y2="286.9" stroke="#28287e" stroke-width="0.8"/>
<line x1="296.23" y1="284.7" x2="296.23" y2="286.9" stroke="#28287e" stroke-width="0.8"/>
<line x1="298.25" y1="284.7" x2="298.25" y2="286.9" stroke="#28287e" stroke-width="0.8"/>
<line x1="299.82" y1="284.7" x2="299.82" y2="286.9" stroke="#28287e" stroke-width="0.8"/>
<line x1="301.11" y1="284.7" x2="301.11" y2="286.9" stroke="#28287e" stroke-width="0.8"/>
<line x1="302.19" y1="284.7" x2="302.19" y2="286.9" stroke="#28287e" stroke-width="0.8"/>
<line x1="303.13" y1="284.7" x2="303.13" y2="286.9" stroke="#28287e" stroke-width="0.8"/>
<line x1="303.96" y1="284.7" x2="303.96" y2="286.9" stroke="#28287e" stroke-width="0.8"/>
<line x1="304.70" y1="284.7" x2="304.70" y2="288.0" stroke="#28287e" stroke-width="1.1"/>
<line x1="309.58" y1="284.7" x2="309.58" y2="286.9" stroke="#28287e" stroke-width="0.8"/>
<line x1="312.43" y1="284.7" x2="312.43" y2="286.9" stroke="#28287e" stroke-width="0.8"/>
<line x1="314.45" y1="284.7" x2="314.45" y2="286.9" stroke="#28287e" stroke-width="0.8"/>
<line x1="316.02" y1="284.7" x2="316.02" y2="286.9" stroke="#28287e" stroke-width="0.8"/>
<line x1="317.31" y1="284.7" x2="317.31" y2="286.9" stroke="#28287e" stroke-width="0.8"/>
<line x1="318.39" y1="284.7" x2="318.39" y2="286.9" stroke="#28287e" stroke-width="0.8"/>
<line x1="319.33" y1="284.7" x2="319.33" y2="286.9" stroke="#28287e" stroke-width="0.8"/>
<line x1="320.16" y1="284.7" x2="320.16" y2="286.9" stroke="#28287e" stroke-width="0.8"/>
<line x1="320.90" y1="284.7" x2="320.90" y2="288.0" stroke="#28287e" stroke-width="1.1"/>
<line x1="325.78" y1="284.7" x2="325.78" y2="286.9" stroke="#28287e" stroke-width="0.8"/>
<line x1="328.63" y1="284.7" x2="328.63" y2="286.9" stroke="#28287e" stroke-width="0.8"/>
<line x1="330.65" y1="284.7" x2="330.65" y2="286.9" stroke="#28287e" stroke-width="0.8"/>
<line x1="332.22" y1="284.7" x2="332.22" y2="286.9" stroke="#28287e" stroke-width="0.8"/>
<line x1="333.51" y1="284.7" x2="333.51" y2="286.9" stroke="#28287e" stroke-width="0.8"/>
<line x1="334.59" y1="284.7" x2="334.59" y2="286.9" stroke="#28287e" stroke-width="0.8"/>
<line x1="335.53" y1="284.7" x2="335.53" y2="286.9" stroke="#28287e" stroke-width="0.8"/>
<line x1="336.36" y1="284.7" x2="336.36" y2="286.9" stroke="#28287e" stroke-width="0.8"/>
<line x1="337.10" y1="284.7" x2="337.10" y2="288.0" stroke="#28287e" stroke-width="1.1"/>
<text x="238.30" y="294.40" font-size="6.3" font-weight="bold" text-anchor="middle" fill="#111" >&#8211;2</text>
<text x="272.30" y="294.40" font-size="6.3" font-weight="bold" text-anchor="middle" fill="#111" >0</text>
<text x="304.70" y="294.40" font-size="6.3" font-weight="bold" text-anchor="middle" fill="#111" >2</text>
<text x="337.10" y="294.40" font-size="6.3" font-weight="bold" text-anchor="middle" fill="#111" >4</text>
<line x1="221.5" y1="284.8" x2="233.1" y2="284.8" stroke="#28287e" stroke-width="1.4"/>
<line x1="221.90" y1="283.50" x2="221.90" y2="287.10" stroke="#28287e" stroke-width="1.1"/>
<line x1="224.90" y1="283.90" x2="224.90" y2="286.40" stroke="#28287e" stroke-width="1.1"/>
<line x1="227.10" y1="283.90" x2="227.10" y2="286.40" stroke="#28287e" stroke-width="1.1"/>
<line x1="229.10" y1="284.20" x2="229.10" y2="286.40" stroke="#28287e" stroke-width="1.1"/>
<line x1="232.60" y1="282.90" x2="232.60" y2="286.40" stroke="#28287e" stroke-width="1.1"/>
<line x1="239.90" y1="282.9" x2="239.90" y2="286.9" stroke="#28287e" stroke-width="1.2"/>
<text x="225.10" y="296.20" font-size="6.8" font-weight="normal" text-anchor="middle" fill="#111"  style="stroke-width:0.3px" textLength="8.4" lengthAdjust="spacingAndGlyphs">No</text>
<text x="226.00" y="304.80" font-size="6.5" font-weight="normal" text-anchor="middle" fill="#111"  style="stroke-width:0.3px" textLength="27.0" lengthAdjust="spacingAndGlyphs">Biological</text>
<text transform="translate(187.50,235.00) rotate(-90)" x="0" y="0" font-size="6.6" font-weight="bold" text-anchor="middle" fill="#111" textLength="81.60" lengthAdjust="spacingAndGlyphs">Cell viability (% inhibition)</text>
<text x="277.50" y="308.10" font-size="6.5" font-weight="bold" text-anchor="middle" fill="#111"  textLength="39.2" lengthAdjust="spacingAndGlyphs">Log (nmol/L)</text>
<line x1="224.1" y1="253.6" x2="233.2" y2="228.4" stroke="#1e7a5a" stroke-width="1.3"/>
<line x1="225.0" y1="253.6" x2="232.6" y2="234.0" stroke="#2a6a8a" stroke-width="1.2"/>
<line x1="224.1" y1="253.3" x2="233.0" y2="250.8" stroke="#111" stroke-width="1.3"/>
<rect x="222.3" y="251.8" width="3.6" height="3.6" fill="#2a7a5a"/>
<polyline points="239.90,249.73 241.06,249.29 242.22,248.80 243.38,248.25 244.54,247.63 245.71,246.94 246.87,246.18 248.03,245.33 249.19,244.40 250.35,243.39 251.51,242.28 252.67,241.09 253.83,239.80 254.99,238.44 256.15,237.00 257.31,235.49 258.48,233.93 259.64,232.32 260.80,230.68 261.96,229.03 263.12,227.38 264.28,225.75 265.44,224.16 266.60,222.61 267.76,221.12 268.93,219.71 270.09,218.37 271.25,217.12 272.41,215.95 273.57,214.87 274.73,213.88 275.89,212.98 277.05,212.16 278.21,211.42 279.37,210.76 280.54,210.16 281.70,209.63 282.86,209.16 284.02,208.74 285.18,208.37 286.34,208.04 287.50,207.75 288.66,207.50 289.82,207.28 290.98,207.08 292.14,206.91 293.31,206.76 294.47,206.63 295.63,206.52 296.79,206.42 297.95,206.33 299.11,206.25 300.27,206.19 301.43,206.13 302.59,206.08 303.75,206.03 304.92,206.00 306.08,205.96 307.24,205.93 308.40,205.91 309.56,205.89" fill="none" stroke="#cc2470" stroke-width="1.5" stroke-linejoin="round"/>
<polyline points="239.90,250.45 241.06,250.15 242.22,249.78 243.38,249.33 244.54,248.77 245.71,248.08 246.87,247.24 248.03,246.23 249.19,245.02 250.35,243.58 251.51,241.91 252.67,239.98 253.83,237.81 254.99,235.41 256.15,232.81 257.31,230.08 258.48,227.26 259.64,224.44 260.80,221.70 261.96,219.08 263.12,216.66 264.28,214.47 265.44,212.52 266.60,210.82 267.76,209.37 268.93,208.14 270.09,207.11 271.25,206.25 272.41,205.55 273.57,204.98 274.73,204.52 275.89,204.14 277.05,203.84 278.21,203.60 279.37,203.40 280.54,203.25 281.70,203.12 282.86,203.02 284.02,202.95 285.18,202.88 286.34,202.83 287.50,202.79 288.66,202.76 289.82,202.74 290.98,202.72 292.14,202.70 293.31,202.69 294.47,202.68 295.63,202.67 296.79,202.66 297.95,202.66 299.11,202.66 300.27,202.65 301.43,202.65 302.59,202.65 303.75,202.65 304.92,202.64 306.08,202.64 307.24,202.64 308.40,202.64 309.56,202.64" fill="none" stroke="#f2a23c" stroke-width="1.5" stroke-linejoin="round"/>
<polyline points="239.90,248.12 241.06,247.71 242.22,247.20 243.38,246.58 244.54,245.83 245.71,244.91 246.87,243.81 248.03,242.50 249.19,240.97 250.35,239.19 251.51,237.18 252.67,234.94 253.83,232.50 254.99,229.90 256.15,227.21 257.31,224.49 258.48,221.82 259.64,219.26 260.80,216.87 261.96,214.68 263.12,212.73 264.28,211.02 265.44,209.54 266.60,208.29 267.76,207.24 268.93,206.36 270.09,205.65 271.25,205.06 272.41,204.58 273.57,204.19 274.73,203.88 275.89,203.63 277.05,203.43 278.21,203.27 279.37,203.14 280.54,203.04 281.70,202.96 282.86,202.89 284.02,202.84 285.18,202.80 286.34,202.77 287.50,202.74 288.66,202.72 289.82,202.70 290.98,202.69 292.14,202.68 293.31,202.67 294.47,202.67 295.63,202.66 296.79,202.66 297.95,202.65 299.11,202.65 300.27,202.65 301.43,202.65 302.59,202.64 303.75,202.64 304.92,202.64 306.08,202.64 307.24,202.64 308.40,202.64 309.56,202.64" fill="none" stroke="#111111" stroke-width="1.5" stroke-linejoin="round"/>
<polyline points="239.90,223.22 241.06,222.67 242.22,222.03 243.38,221.31 244.54,220.50 245.71,219.60 246.87,218.62 248.03,217.57 249.19,216.46 250.35,215.31 251.51,214.15 252.67,212.99 253.83,211.86 254.99,210.77 256.15,209.75 257.31,208.81 258.48,207.95 259.64,207.18 260.80,206.50 261.96,205.90 263.12,205.38 264.28,204.94 265.44,204.56 266.60,204.24 267.76,203.97 268.93,203.74 270.09,203.55 271.25,203.39 272.41,203.26 273.57,203.15 274.73,203.06 275.89,202.99 277.05,202.93 278.21,202.87 279.37,202.83 280.54,202.80 281.70,202.77 282.86,202.75 284.02,202.73 285.18,202.71 286.34,202.70 287.50,202.69 288.66,202.68 289.82,202.67 290.98,202.67 292.14,202.66 293.31,202.66 294.47,202.65 295.63,202.65 296.79,202.65 297.95,202.65 299.11,202.65 300.27,202.65 301.43,202.64 302.59,202.64 303.75,202.64 304.92,202.64 306.08,202.64 307.24,202.64 308.40,202.64 309.56,202.64" fill="none" stroke="#2e4292" stroke-width="1.5" stroke-linejoin="round"/>
<polyline points="239.90,216.51 241.06,215.46 242.22,214.40 243.38,213.35 244.54,212.32 245.71,211.31 246.87,210.35 248.03,209.43 249.19,208.56 250.35,207.75 251.51,206.99 252.67,206.30 253.83,205.67 254.99,205.10 256.15,204.58 257.31,204.12 258.48,203.71 259.64,203.34 260.80,203.01 261.96,202.73 263.12,202.47 264.28,202.25 265.44,202.06 266.60,201.89 267.76,201.74 268.93,201.61 270.09,201.50 271.25,201.40 272.41,201.32 273.57,201.25 274.73,201.18 275.89,201.13 277.05,201.08 278.21,201.04 279.37,201.00 280.54,200.97 281.70,200.95 282.86,200.92 284.02,200.90 285.18,200.89 286.34,200.87 287.50,200.86 288.66,200.85 289.82,200.84 290.98,200.83 292.14,200.82 293.31,200.82 294.47,200.81 295.63,200.81 296.79,200.80 297.95,200.80 299.11,200.80 300.27,200.80 301.43,200.79 302.59,200.79 303.75,200.79 304.92,200.79 306.08,200.79 307.24,200.79 308.40,200.79 309.56,200.78" fill="none" stroke="#18733f" stroke-width="1.5" stroke-linejoin="round"/>
<circle cx="239.90" cy="249.73" r="1.68" fill="#cc2470"/>
<circle cx="247.63" cy="245.63" r="1.68" fill="#cc2470"/>
<circle cx="255.36" cy="237.99" r="1.68" fill="#cc2470"/>
<circle cx="263.09" cy="227.43" r="1.68" fill="#cc2470"/>
<circle cx="270.82" cy="217.57" r="1.68" fill="#cc2470"/>
<circle cx="278.55" cy="211.23" r="1.68" fill="#cc2470"/>
<circle cx="286.28" cy="208.06" r="1.68" fill="#cc2470"/>
<circle cx="294.01" cy="206.68" r="1.68" fill="#cc2470"/>
<circle cx="301.73" cy="206.11" r="1.68" fill="#cc2470"/>
<circle cx="309.46" cy="205.89" r="1.68" fill="#cc2470"/>
<rect x="238.33" y="248.87" width="3.15" height="3.15" fill="#f2a23c"/>
<rect x="246.05" y="245.02" width="3.15" height="3.15" fill="#f2a23c"/>
<rect x="253.78" y="235.52" width="3.15" height="3.15" fill="#f2a23c"/>
<rect x="261.51" y="217.01" width="3.15" height="3.15" fill="#f2a23c"/>
<rect x="269.24" y="204.97" width="3.15" height="3.15" fill="#f2a23c"/>
<rect x="276.97" y="201.96" width="3.15" height="3.15" fill="#f2a23c"/>
<rect x="284.70" y="201.26" width="3.15" height="3.15" fill="#f2a23c"/>
<rect x="292.43" y="201.11" width="3.15" height="3.15" fill="#f2a23c"/>
<rect x="300.16" y="201.07" width="3.15" height="3.15" fill="#f2a23c"/>
<rect x="307.89" y="201.07" width="3.15" height="3.15" fill="#f2a23c"/>
<path d="M237.91,248.47L241.90,248.47L239.90,244.88Z" fill="#111111"/>
<path d="M245.63,242.09L249.62,242.09L247.63,238.50Z" fill="#111111"/>
<path d="M253.36,229.42L257.35,229.42L255.36,225.83Z" fill="#111111"/>
<path d="M261.09,215.62L265.08,215.62L263.09,212.03Z" fill="#111111"/>
<path d="M268.82,206.86L272.81,206.86L270.82,203.27Z" fill="#111111"/>
<path d="M276.55,204.82L280.54,204.82L278.55,201.23Z" fill="#111111"/>
<path d="M284.28,204.36L288.27,204.36L286.28,200.77Z" fill="#111111"/>
<path d="M292.01,204.26L296.00,204.26L294.01,200.67Z" fill="#111111"/>
<path d="M299.74,204.24L303.73,204.24L301.73,200.65Z" fill="#111111"/>
<path d="M307.47,204.24L311.46,204.24L309.46,200.65Z" fill="#111111"/>
<path d="M237.91,223.22L239.90,221.23L241.90,223.22L239.90,225.22Z" fill="#2e4292"/>
<path d="M245.63,219.18L247.63,217.18L249.62,219.18L247.63,221.17Z" fill="#2e4292"/>
<path d="M253.36,210.44L255.36,208.45L257.35,210.44L255.36,212.44Z" fill="#2e4292"/>
<path d="M261.09,205.40L263.09,203.40L265.08,205.40L263.09,207.39Z" fill="#2e4292"/>
<path d="M268.82,203.45L270.82,201.45L272.81,203.45L270.82,205.44Z" fill="#2e4292"/>
<path d="M276.55,202.86L278.55,200.87L280.54,202.86L278.55,204.86Z" fill="#2e4292"/>
<path d="M284.28,202.70L286.28,200.70L288.27,202.70L286.28,204.69Z" fill="#2e4292"/>
<path d="M292.01,202.66L294.01,200.66L296.00,202.66L294.01,204.65Z" fill="#2e4292"/>
<path d="M299.74,202.64L301.73,200.65L303.73,202.64L301.73,204.64Z" fill="#2e4292"/>
<path d="M307.47,202.64L309.46,200.65L311.46,202.64L309.46,204.64Z" fill="#2e4292"/>
<path d="M237.91,214.92L241.90,214.92L239.90,218.51Z" fill="#18733f"/>
<path d="M245.63,208.14L249.62,208.14L247.63,211.73Z" fill="#18733f"/>
<path d="M253.36,203.33L257.35,203.33L255.36,206.92Z" fill="#18733f"/>
<path d="M261.09,200.88L265.08,200.88L263.09,204.47Z" fill="#18733f"/>
<path d="M268.82,199.84L272.81,199.84L270.82,203.43Z" fill="#18733f"/>
<path d="M276.55,199.43L280.54,199.43L278.55,203.02Z" fill="#18733f"/>
<path d="M284.28,199.28L288.27,199.28L286.28,202.87Z" fill="#18733f"/>
<path d="M292.01,199.22L296.00,199.22L294.01,202.81Z" fill="#18733f"/>
<path d="M299.74,199.20L303.73,199.20L301.73,202.79Z" fill="#18733f"/>
<path d="M307.47,199.19L311.46,199.19L309.46,202.78Z" fill="#18733f"/>
<line x1="382.9" y1="193.30" x2="382.9" y2="273.10" stroke="#28287e" stroke-width="1.5"/>
<line x1="379.29999999999995" y1="272.50" x2="382.9" y2="272.50" stroke="#28287e" stroke-width="1.3"/>
<text x="378.20" y="275.12" font-size="6.3" font-weight="bold" text-anchor="end" fill="#111" >&#8211;20</text>
<line x1="379.29999999999995" y1="259.40" x2="382.9" y2="259.40" stroke="#28287e" stroke-width="1.3"/>
<text x="378.20" y="262.02" font-size="6.3" font-weight="bold" text-anchor="end" fill="#111" >0</text>
<line x1="379.29999999999995" y1="246.30" x2="382.9" y2="246.30" stroke="#28287e" stroke-width="1.3"/>
<text x="378.20" y="248.92" font-size="6.3" font-weight="bold" text-anchor="end" fill="#111" >20</text>
<line x1="379.29999999999995" y1="233.20" x2="382.9" y2="233.20" stroke="#28287e" stroke-width="1.3"/>
<text x="378.20" y="235.82" font-size="6.3" font-weight="bold" text-anchor="end" fill="#111" >40</text>
<line x1="379.29999999999995" y1="220.10" x2="382.9" y2="220.10" stroke="#28287e" stroke-width="1.3"/>
<text x="378.20" y="222.72" font-size="6.3" font-weight="bold" text-anchor="end" fill="#111" >60</text>
<line x1="379.29999999999995" y1="207.00" x2="382.9" y2="207.00" stroke="#28287e" stroke-width="1.3"/>
<text x="378.20" y="209.62" font-size="6.3" font-weight="bold" text-anchor="end" fill="#111" >80</text>
<line x1="379.29999999999995" y1="193.90" x2="382.9" y2="193.90" stroke="#28287e" stroke-width="1.3"/>
<text x="378.20" y="196.52" font-size="6.3" font-weight="bold" text-anchor="end" fill="#111" >100</text>
<line x1="384" y1="259.40" x2="518.4" y2="259.40" stroke="#14144a" stroke-width="1.1" stroke-dasharray="1,1"/>
<line x1="394.20" y1="285.0" x2="518.90" y2="285.0" stroke="#28287e" stroke-width="1.5"/>
<line x1="394.80" y1="285.0" x2="394.80" y2="288.3" stroke="#28287e" stroke-width="1.1"/>
<line x1="402.24" y1="285.0" x2="402.24" y2="287.2" stroke="#28287e" stroke-width="0.8"/>
<line x1="406.58" y1="285.0" x2="406.58" y2="287.2" stroke="#28287e" stroke-width="0.8"/>
<line x1="409.67" y1="285.0" x2="409.67" y2="287.2" stroke="#28287e" stroke-width="0.8"/>
<line x1="412.06" y1="285.0" x2="412.06" y2="287.2" stroke="#28287e" stroke-width="0.8"/>
<line x1="414.02" y1="285.0" x2="414.02" y2="287.2" stroke="#28287e" stroke-width="0.8"/>
<line x1="415.67" y1="285.0" x2="415.67" y2="287.2" stroke="#28287e" stroke-width="0.8"/>
<line x1="417.11" y1="285.0" x2="417.11" y2="287.2" stroke="#28287e" stroke-width="0.8"/>
<line x1="418.37" y1="285.0" x2="418.37" y2="287.2" stroke="#28287e" stroke-width="0.8"/>
<line x1="419.50" y1="285.0" x2="419.50" y2="288.3" stroke="#28287e" stroke-width="1.1"/>
<line x1="426.94" y1="285.0" x2="426.94" y2="287.2" stroke="#28287e" stroke-width="0.8"/>
<line x1="431.28" y1="285.0" x2="431.28" y2="287.2" stroke="#28287e" stroke-width="0.8"/>
<line x1="434.37" y1="285.0" x2="434.37" y2="287.2" stroke="#28287e" stroke-width="0.8"/>
<line x1="436.76" y1="285.0" x2="436.76" y2="287.2" stroke="#28287e" stroke-width="0.8"/>
<line x1="438.72" y1="285.0" x2="438.72" y2="287.2" stroke="#28287e" stroke-width="0.8"/>
<line x1="440.37" y1="285.0" x2="440.37" y2="287.2" stroke="#28287e" stroke-width="0.8"/>
<line x1="441.81" y1="285.0" x2="441.81" y2="287.2" stroke="#28287e" stroke-width="0.8"/>
<line x1="443.07" y1="285.0" x2="443.07" y2="287.2" stroke="#28287e" stroke-width="0.8"/>
<line x1="444.20" y1="285.0" x2="444.20" y2="288.3" stroke="#28287e" stroke-width="1.1"/>
<line x1="451.64" y1="285.0" x2="451.64" y2="287.2" stroke="#28287e" stroke-width="0.8"/>
<line x1="455.98" y1="285.0" x2="455.98" y2="287.2" stroke="#28287e" stroke-width="0.8"/>
<line x1="459.07" y1="285.0" x2="459.07" y2="287.2" stroke="#28287e" stroke-width="0.8"/>
<line x1="461.46" y1="285.0" x2="461.46" y2="287.2" stroke="#28287e" stroke-width="0.8"/>
<line x1="463.42" y1="285.0" x2="463.42" y2="287.2" stroke="#28287e" stroke-width="0.8"/>
<line x1="465.07" y1="285.0" x2="465.07" y2="287.2" stroke="#28287e" stroke-width="0.8"/>
<line x1="466.51" y1="285.0" x2="466.51" y2="287.2" stroke="#28287e" stroke-width="0.8"/>
<line x1="467.77" y1="285.0" x2="467.77" y2="287.2" stroke="#28287e" stroke-width="0.8"/>
<line x1="468.90" y1="285.0" x2="468.90" y2="288.3" stroke="#28287e" stroke-width="1.1"/>
<line x1="476.34" y1="285.0" x2="476.34" y2="287.2" stroke="#28287e" stroke-width="0.8"/>
<line x1="480.68" y1="285.0" x2="480.68" y2="287.2" stroke="#28287e" stroke-width="0.8"/>
<line x1="483.77" y1="285.0" x2="483.77" y2="287.2" stroke="#28287e" stroke-width="0.8"/>
<line x1="486.16" y1="285.0" x2="486.16" y2="287.2" stroke="#28287e" stroke-width="0.8"/>
<line x1="488.12" y1="285.0" x2="488.12" y2="287.2" stroke="#28287e" stroke-width="0.8"/>
<line x1="489.77" y1="285.0" x2="489.77" y2="287.2" stroke="#28287e" stroke-width="0.8"/>
<line x1="491.21" y1="285.0" x2="491.21" y2="287.2" stroke="#28287e" stroke-width="0.8"/>
<line x1="492.47" y1="285.0" x2="492.47" y2="287.2" stroke="#28287e" stroke-width="0.8"/>
<line x1="493.60" y1="285.0" x2="493.60" y2="288.3" stroke="#28287e" stroke-width="1.1"/>
<line x1="501.04" y1="285.0" x2="501.04" y2="287.2" stroke="#28287e" stroke-width="0.8"/>
<line x1="505.38" y1="285.0" x2="505.38" y2="287.2" stroke="#28287e" stroke-width="0.8"/>
<line x1="508.47" y1="285.0" x2="508.47" y2="287.2" stroke="#28287e" stroke-width="0.8"/>
<line x1="510.86" y1="285.0" x2="510.86" y2="287.2" stroke="#28287e" stroke-width="0.8"/>
<line x1="512.82" y1="285.0" x2="512.82" y2="287.2" stroke="#28287e" stroke-width="0.8"/>
<line x1="514.47" y1="285.0" x2="514.47" y2="287.2" stroke="#28287e" stroke-width="0.8"/>
<line x1="515.91" y1="285.0" x2="515.91" y2="287.2" stroke="#28287e" stroke-width="0.8"/>
<line x1="517.17" y1="285.0" x2="517.17" y2="287.2" stroke="#28287e" stroke-width="0.8"/>
<line x1="518.30" y1="285.0" x2="518.30" y2="288.3" stroke="#28287e" stroke-width="1.1"/>
<text x="393.20" y="295.30" font-size="6.3" font-weight="bold" text-anchor="middle" fill="#111" >&#8211;3</text>
<text x="417.90" y="295.30" font-size="6.3" font-weight="bold" text-anchor="middle" fill="#111" >&#8211;2</text>
<text x="442.60" y="295.30" font-size="6.3" font-weight="bold" text-anchor="middle" fill="#111" >&#8211;1</text>
<text x="468.90" y="295.30" font-size="6.3" font-weight="bold" text-anchor="middle" fill="#111" >0</text>
<text x="493.60" y="295.30" font-size="6.3" font-weight="bold" text-anchor="middle" fill="#111" >1</text>
<text x="518.30" y="295.30" font-size="6.3" font-weight="bold" text-anchor="middle" fill="#111" >2</text>
<text transform="translate(361.60,233.15) rotate(-90)" x="0" y="0" font-size="6.6" font-weight="bold" text-anchor="middle" fill="#111" textLength="81.90" lengthAdjust="spacingAndGlyphs">Cell viability (% inhibition)</text>
<text x="455.50" y="308.30" font-size="6.5" font-weight="bold" text-anchor="middle" fill="#111"  textLength="40.0" lengthAdjust="spacingAndGlyphs">Log (nmol/L)</text>
<polyline points="408.14,251.08 419.92,251.08 431.71,248.79 443.49,246.50 455.28,244.01 467.06,241.91 478.85,236.28 490.63,226.91 502.42,223.11 514.20,219.44" fill="none" stroke="#cc2470" stroke-width="1.5" stroke-linejoin="round"/>
<polyline points="408.14,247.68 419.92,247.09 431.71,245.97 443.49,244.79 455.28,238.77 467.06,231.89 478.85,225.60 490.63,219.44 502.42,217.48 514.20,215.58" fill="none" stroke="#f2a23c" stroke-width="1.5" stroke-linejoin="round"/>
<polyline points="408.14,245.64 419.92,244.33 431.71,241.32 443.49,236.47 455.28,229.92 467.06,222.72 478.85,218.79 490.63,215.19 502.42,214.99 514.20,214.40" fill="none" stroke="#2e4292" stroke-width="1.5" stroke-linejoin="round"/>
<polyline points="408.14,240.80 419.92,238.44 431.71,235.82 443.49,231.23 455.28,227.30 467.06,220.10 478.85,218.13 490.63,214.20 502.42,213.09 514.20,211.91" fill="none" stroke="#18733f" stroke-width="1.5" stroke-linejoin="round"/>
<polyline points="408.14,249.38 419.92,248.79 431.71,245.97 443.49,241.06 455.28,233.85 467.06,226.98 478.85,219.44 490.63,212.50 502.42,211.91 514.20,206.87" fill="none" stroke="#111111" stroke-width="1.5" stroke-linejoin="round"/>
<path d="M408.14,249.12V253.05M406.54,249.12H409.74M406.54,253.05H409.74" stroke="#cc2470" stroke-width="0.9" fill="none"/>
<circle cx="408.14" cy="251.08" r="1.68" fill="#cc2470"/>
<path d="M419.92,248.46V253.70M418.32,248.46H421.52M418.32,253.70H421.52" stroke="#cc2470" stroke-width="0.9" fill="none"/>
<circle cx="419.92" cy="251.08" r="1.68" fill="#cc2470"/>
<path d="M431.71,246.82V250.75M430.11,246.82H433.31M430.11,250.75H433.31" stroke="#cc2470" stroke-width="0.9" fill="none"/>
<circle cx="431.71" cy="248.79" r="1.68" fill="#cc2470"/>
<circle cx="443.49" cy="246.50" r="1.68" fill="#cc2470"/>
<path d="M455.28,242.04V245.97M453.68,242.04H456.88M453.68,245.97H456.88" stroke="#cc2470" stroke-width="0.9" fill="none"/>
<circle cx="455.28" cy="244.01" r="1.68" fill="#cc2470"/>
<path d="M467.06,239.95V243.88M465.46,239.95H468.66M465.46,243.88H468.66" stroke="#cc2470" stroke-width="0.9" fill="none"/>
<circle cx="467.06" cy="241.91" r="1.68" fill="#cc2470"/>
<path d="M478.85,233.66V238.90M477.25,233.66H480.45M477.25,238.90H480.45" stroke="#cc2470" stroke-width="0.9" fill="none"/>
<circle cx="478.85" cy="236.28" r="1.68" fill="#cc2470"/>
<path d="M490.63,224.95V228.88M489.03,224.95H492.23M489.03,228.88H492.23" stroke="#cc2470" stroke-width="0.9" fill="none"/>
<circle cx="490.63" cy="226.91" r="1.68" fill="#cc2470"/>
<circle cx="502.42" cy="223.11" r="1.68" fill="#cc2470"/>
<path d="M514.20,217.48V221.41M512.60,217.48H515.80M512.60,221.41H515.80" stroke="#cc2470" stroke-width="0.9" fill="none"/>
<circle cx="514.20" cy="219.44" r="1.68" fill="#cc2470"/>
<rect x="406.56" y="246.10" width="3.15" height="3.15" fill="#f2a23c"/>
<rect x="418.35" y="245.51" width="3.15" height="3.15" fill="#f2a23c"/>
<rect x="430.13" y="244.40" width="3.15" height="3.15" fill="#f2a23c"/>
<rect x="441.92" y="243.22" width="3.15" height="3.15" fill="#f2a23c"/>
<rect x="453.70" y="237.19" width="3.15" height="3.15" fill="#f2a23c"/>
<rect x="465.49" y="230.31" width="3.15" height="3.15" fill="#f2a23c"/>
<rect x="477.27" y="224.03" width="3.15" height="3.15" fill="#f2a23c"/>
<rect x="489.06" y="217.87" width="3.15" height="3.15" fill="#f2a23c"/>
<rect x="500.84" y="215.90" width="3.15" height="3.15" fill="#f2a23c"/>
<rect x="512.63" y="214.01" width="3.15" height="3.15" fill="#f2a23c"/>
<path d="M406.14,245.64L408.14,243.65L410.13,245.64L408.14,247.64Z" fill="#2e4292"/>
<path d="M417.93,244.33L419.92,242.34L421.92,244.33L419.92,246.33Z" fill="#2e4292"/>
<path d="M429.71,241.32L431.71,239.33L433.70,241.32L431.71,243.32Z" fill="#2e4292"/>
<path d="M441.50,236.47L443.49,234.48L445.49,236.47L443.49,238.47Z" fill="#2e4292"/>
<path d="M453.28,229.92L455.28,227.93L457.27,229.92L455.28,231.92Z" fill="#2e4292"/>
<path d="M465.07,222.72L467.06,220.72L469.06,222.72L467.06,224.71Z" fill="#2e4292"/>
<path d="M476.85,218.79L478.85,216.79L480.84,218.79L478.85,220.78Z" fill="#2e4292"/>
<path d="M488.64,215.19L490.63,213.19L492.63,215.19L490.63,217.18Z" fill="#2e4292"/>
<path d="M500.42,214.99L502.42,213.00L504.41,214.99L502.42,216.99Z" fill="#2e4292"/>
<path d="M512.21,214.40L514.20,212.41L516.20,214.40L514.20,216.40Z" fill="#2e4292"/>
<path d="M408.14,238.83V242.76M406.54,238.83H409.74M406.54,242.76H409.74" stroke="#18733f" stroke-width="0.9" fill="none"/>
<path d="M406.14,239.20L410.13,239.20L408.14,242.79Z" fill="#18733f"/>
<path d="M419.92,235.82V241.06M418.32,235.82H421.52M418.32,241.06H421.52" stroke="#18733f" stroke-width="0.9" fill="none"/>
<path d="M417.93,236.84L421.92,236.84L419.92,240.43Z" fill="#18733f"/>
<path d="M431.71,232.54V239.09M430.11,232.54H433.31M430.11,239.09H433.31" stroke="#18733f" stroke-width="0.9" fill="none"/>
<path d="M429.71,234.22L433.70,234.22L431.71,237.81Z" fill="#18733f"/>
<path d="M443.49,228.61V233.85M441.89,228.61H445.09M441.89,233.85H445.09" stroke="#18733f" stroke-width="0.9" fill="none"/>
<path d="M441.50,229.64L445.49,229.64L443.49,233.23Z" fill="#18733f"/>
<path d="M455.28,225.34V229.27M453.68,225.34H456.88M453.68,229.27H456.88" stroke="#18733f" stroke-width="0.9" fill="none"/>
<path d="M453.28,225.71L457.27,225.71L455.28,229.30Z" fill="#18733f"/>
<path d="M465.07,218.50L469.06,218.50L467.06,222.09Z" fill="#18733f"/>
<path d="M476.85,216.54L480.84,216.54L478.85,220.13Z" fill="#18733f"/>
<path d="M488.64,212.61L492.63,212.61L490.63,216.20Z" fill="#18733f"/>
<path d="M500.42,211.50L504.41,211.50L502.42,215.09Z" fill="#18733f"/>
<path d="M514.20,209.95V213.88M512.60,209.95H515.80M512.60,213.88H515.80" stroke="#18733f" stroke-width="0.9" fill="none"/>
<path d="M512.21,210.32L516.20,210.32L514.20,213.91Z" fill="#18733f"/>
<path d="M408.14,247.41V251.34M406.54,247.41H409.74M406.54,251.34H409.74" stroke="#111111" stroke-width="0.9" fill="none"/>
<path d="M406.14,250.97L410.13,250.97L408.14,247.38Z" fill="#111111"/>
<path d="M419.92,246.17V251.41M418.32,246.17H421.52M418.32,251.41H421.52" stroke="#111111" stroke-width="0.9" fill="none"/>
<path d="M417.93,250.38L421.92,250.38L419.92,246.79Z" fill="#111111"/>
<path d="M429.71,247.57L433.70,247.57L431.71,243.98Z" fill="#111111"/>
<path d="M441.50,242.66L445.49,242.66L443.49,239.06Z" fill="#111111"/>
<path d="M453.28,235.45L457.27,235.45L455.28,231.86Z" fill="#111111"/>
<path d="M465.07,228.57L469.06,228.57L467.06,224.98Z" fill="#111111"/>
<path d="M476.85,221.04L480.84,221.04L478.85,217.45Z" fill="#111111"/>
<path d="M488.64,214.10L492.63,214.10L490.63,210.51Z" fill="#111111"/>
<path d="M500.42,213.51L504.41,213.51L502.42,209.92Z" fill="#111111"/>
<path d="M512.21,208.46L516.20,208.46L514.20,204.87Z" fill="#111111"/>
<line x1="324.6" y1="317.8" x2="342.2" y2="317.8" stroke="#186a38" stroke-width="1.5"/>
<path d="M331.0,315.2H336.20000000000005V315.90000000000003H335.70000000000005L333.6,319.90000000000003L331.5,315.90000000000003H331.0Z" fill="#1a7a42"/>
<text x="367.75" y="319.30" font-size="7.6" font-weight="bold" text-anchor="middle" fill="#111" style="stroke-width:0.45px" textLength="37.1" lengthAdjust="spacingAndGlyphs">Surrobody</text>
<line x1="324.6" y1="331.2" x2="342.2" y2="331.2" stroke="#a23c80" stroke-width="1.5"/>
<circle cx="333.6" cy="331.2" r="2.6" fill="#b8408e"/>
<text x="356.05" y="333.30" font-size="7.6" font-weight="bold" text-anchor="middle" fill="#111" style="stroke-width:0.45px" textLength="13.7" lengthAdjust="spacingAndGlyphs">DR4</text>
<line x1="324.6" y1="345.3" x2="342.2" y2="345.3" stroke="#dc9632" stroke-width="1.5"/>
<rect x="331.20000000000005" y="342.90000000000003" width="4.8" height="4.8" fill="#eb9c32"/>
<text x="356.30" y="347.60" font-size="7.6" font-weight="bold" text-anchor="middle" fill="#111" style="stroke-width:0.45px" textLength="13.8" lengthAdjust="spacingAndGlyphs">DR5</text>
<line x1="324.6" y1="359.2" x2="342.2" y2="359.2" stroke="#111" stroke-width="1.5"/>
<path d="M331.0,360.9H336.20000000000005L333.6,356.5Z" fill="#111"/>
<text x="365.95" y="361.60" font-size="7.6" font-weight="bold" text-anchor="middle" fill="#111" style="stroke-width:0.45px" textLength="33.1" lengthAdjust="spacingAndGlyphs">DR4+DR5</text>
<line x1="324.6" y1="373.2" x2="342.2" y2="373.2" stroke="#2a3888" stroke-width="1.5"/>
<path d="M331.40000000000003,373.2L333.6,370.59999999999997L335.8,373.2L333.6,375.8Z" fill="#34469e"/>
<text x="358.90" y="375.90" font-size="7.6" font-weight="bold" text-anchor="middle" fill="#111" style="stroke-width:0.45px" textLength="19.0" lengthAdjust="spacingAndGlyphs">TRAIL</text>
</svg>
</body></html>
